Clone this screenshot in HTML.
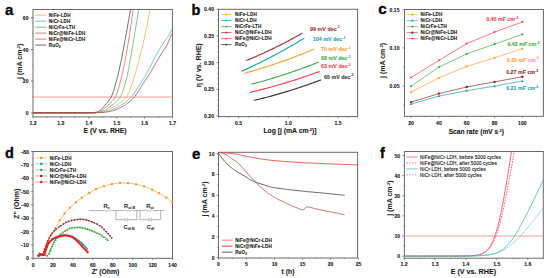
<!DOCTYPE html>
<html><head><meta charset="utf-8"><style>
html,body{margin:0;padding:0;background:#fff;width:550px;height:278px;overflow:hidden}
svg{display:block;font-family:"Liberation Sans", sans-serif}
</style></head><body>
<svg width="550" height="278" viewBox="0 0 550 278">
<rect width="550" height="278" fill="#fff"/>
<text x="9.10" y="14.60" font-size="15" text-anchor="middle" font-weight="bold" fill="#000" stroke="#000" stroke-width="0.3" >a</text>
<rect x="33.0" y="9.5" width="139.4" height="107.4" fill="none" stroke="#6a6a6a" stroke-width="1.0"/>
<line x1="31.80" y1="97.05" x2="33.00" y2="97.05" stroke="#555" stroke-width="0.6" />
<line x1="31.80" y1="65.35" x2="33.00" y2="65.35" stroke="#555" stroke-width="0.6" />
<line x1="31.80" y1="33.65" x2="33.00" y2="33.65" stroke="#555" stroke-width="0.6" />
<line x1="31.00" y1="112.90" x2="33.00" y2="112.90" stroke="#555" stroke-width="0.8" />
<text x="28.50" y="114.90" font-size="5.1" text-anchor="end" font-weight="bold" fill="#151515" stroke="#151515" stroke-width="0.09" >0</text>
<line x1="31.00" y1="81.20" x2="33.00" y2="81.20" stroke="#555" stroke-width="0.8" />
<text x="28.50" y="83.20" font-size="5.1" text-anchor="end" font-weight="bold" fill="#151515" stroke="#151515" stroke-width="0.09" >20</text>
<line x1="31.00" y1="49.50" x2="33.00" y2="49.50" stroke="#555" stroke-width="0.8" />
<text x="28.50" y="51.50" font-size="5.1" text-anchor="end" font-weight="bold" fill="#151515" stroke="#151515" stroke-width="0.09" >40</text>
<line x1="31.00" y1="17.80" x2="33.00" y2="17.80" stroke="#555" stroke-width="0.8" />
<text x="28.50" y="19.80" font-size="5.1" text-anchor="end" font-weight="bold" fill="#151515" stroke="#151515" stroke-width="0.09" >60</text>
<line x1="33.00" y1="116.90" x2="33.00" y2="118.50" stroke="#555" stroke-width="0.7" />
<text x="33.00" y="125.20" font-size="5.1" text-anchor="middle" font-weight="bold" fill="#151515" stroke="#151515" stroke-width="0.09" >1.2</text>
<line x1="46.95" y1="116.90" x2="46.95" y2="117.86" stroke="#555" stroke-width="0.7" />
<line x1="60.90" y1="116.90" x2="60.90" y2="118.50" stroke="#555" stroke-width="0.7" />
<text x="60.90" y="125.20" font-size="5.1" text-anchor="middle" font-weight="bold" fill="#151515" stroke="#151515" stroke-width="0.09" >1.3</text>
<line x1="74.85" y1="116.90" x2="74.85" y2="117.86" stroke="#555" stroke-width="0.7" />
<line x1="88.80" y1="116.90" x2="88.80" y2="118.50" stroke="#555" stroke-width="0.7" />
<text x="88.80" y="125.20" font-size="5.1" text-anchor="middle" font-weight="bold" fill="#151515" stroke="#151515" stroke-width="0.09" >1.4</text>
<line x1="102.75" y1="116.90" x2="102.75" y2="117.86" stroke="#555" stroke-width="0.7" />
<line x1="116.70" y1="116.90" x2="116.70" y2="118.50" stroke="#555" stroke-width="0.7" />
<text x="116.70" y="125.20" font-size="5.1" text-anchor="middle" font-weight="bold" fill="#151515" stroke="#151515" stroke-width="0.09" >1.5</text>
<line x1="130.65" y1="116.90" x2="130.65" y2="117.86" stroke="#555" stroke-width="0.7" />
<line x1="144.60" y1="116.90" x2="144.60" y2="118.50" stroke="#555" stroke-width="0.7" />
<text x="144.60" y="125.20" font-size="5.1" text-anchor="middle" font-weight="bold" fill="#151515" stroke="#151515" stroke-width="0.09" >1.6</text>
<line x1="158.55" y1="116.90" x2="158.55" y2="117.86" stroke="#555" stroke-width="0.7" />
<line x1="172.50" y1="116.90" x2="172.50" y2="118.50" stroke="#555" stroke-width="0.7" />
<text x="172.50" y="125.20" font-size="5.1" text-anchor="middle" font-weight="bold" fill="#151515" stroke="#151515" stroke-width="0.09" >1.7</text>
<text x="105.00" y="133.30" font-size="6.8" text-anchor="middle" font-weight="bold" fill="#151515" stroke="#151515" stroke-width="0.09" >E (V vs. RHE)</text>
<text transform="translate(21.5,61.3) rotate(-90)" font-size="7" text-anchor="middle" font-weight="bold" fill="#222" stroke="#222" stroke-width="0.04">j (mA cm<tspan font-size="4" dy="-2">-2</tspan><tspan dy="2">)</tspan></text>
<line x1="33.00" y1="97.05" x2="172.40" y2="97.05" stroke="#F29C9C" stroke-width="1.0" />
<line x1="35.30" y1="15.20" x2="46.40" y2="15.20" stroke="#FBB46E" stroke-width="0.9" />
<text x="48.80" y="16.90" font-size="4.6" text-anchor="start" font-weight="bold" fill="#151515" stroke="#151515" stroke-width="0.09" letter-spacing="0.12" >NiFe-LDH</text>
<line x1="35.30" y1="21.18" x2="46.40" y2="21.18" stroke="#5CC2C4" stroke-width="0.9" />
<text x="48.80" y="22.88" font-size="4.6" text-anchor="start" font-weight="bold" fill="#151515" stroke="#151515" stroke-width="0.09" letter-spacing="0.12" >NiCr-LDH</text>
<line x1="35.30" y1="27.16" x2="46.40" y2="27.16" stroke="#6DC16F" stroke-width="0.9" />
<text x="48.80" y="28.86" font-size="4.6" text-anchor="start" font-weight="bold" fill="#151515" stroke="#151515" stroke-width="0.09" letter-spacing="0.12" >NiCrFe-LTH</text>
<line x1="35.30" y1="33.14" x2="46.40" y2="33.14" stroke="#C07070" stroke-width="0.9" />
<text x="48.80" y="34.84" font-size="4.6" text-anchor="start" font-weight="bold" fill="#151515" stroke="#151515" stroke-width="0.09" letter-spacing="0.12" >NiCr@NiFe-LDH</text>
<line x1="35.30" y1="39.12" x2="46.40" y2="39.12" stroke="#F26464" stroke-width="0.9" />
<text x="48.80" y="40.82" font-size="4.6" text-anchor="start" font-weight="bold" fill="#151515" stroke="#151515" stroke-width="0.09" letter-spacing="0.12" >NiFe@NiCr-LDH</text>
<line x1="35.30" y1="45.10" x2="46.40" y2="45.10" stroke="#555555" stroke-width="0.9" />
<text x="48.80" y="46.80" font-size="4.6" text-anchor="start" font-weight="bold" fill="#151515" stroke="#151515" stroke-width="0.09" letter-spacing="0.12" >RuO<tspan font-size="3.3" dy="1">2</tspan></text>
<path d="M33.00,113.10 L33.82,113.10 L34.64,113.10 L35.46,113.10 L36.28,113.10 L37.10,113.10 L37.92,113.10 L38.74,113.10 L39.55,113.10 L40.37,113.10 L41.19,113.10 L42.01,113.10 L42.83,113.10 L43.65,113.10 L44.47,113.10 L45.29,113.10 L46.11,113.10 L46.93,113.10 L47.75,113.09 L48.57,113.09 L49.39,113.09 L50.21,113.09 L51.03,113.09 L51.84,113.09 L52.66,113.09 L53.48,113.09 L54.30,113.09 L55.12,113.09 L55.94,113.09 L56.76,113.08 L57.58,113.08 L58.40,113.08 L59.22,113.08 L60.04,113.08 L60.86,113.08 L61.68,113.08 L62.50,113.07 L63.32,113.07 L64.13,113.07 L64.95,113.07 L65.77,113.07 L66.59,113.07 L67.41,113.06 L68.23,113.06 L69.05,113.06 L69.87,113.06 L70.69,113.05 L71.51,113.05 L72.33,113.05 L73.15,113.05 L73.97,113.04 L74.79,113.04 L75.61,113.04 L76.42,113.04 L77.24,113.03 L78.06,113.03 L78.88,113.03 L79.70,113.02 L80.52,113.02 L81.34,113.02 L82.16,113.01 L82.98,113.01 L83.80,113.01 L84.62,113.00 L85.44,113.00 L86.26,112.98 L87.08,112.97 L87.89,112.94 L88.71,112.90 L89.53,112.86 L90.35,112.81 L91.17,112.76 L91.99,112.69 L92.81,112.62 L93.63,112.54 L94.45,112.46 L95.27,112.37 L96.09,112.21 L96.91,111.98 L97.73,111.68 L98.55,111.33 L99.37,110.93 L100.18,110.49 L101.00,109.88 L101.82,109.07 L102.64,108.13 L103.46,107.12 L104.28,106.08 L105.10,105.08 L105.92,104.13 L106.74,103.20 L107.56,102.26 L108.38,101.25 L109.20,100.16 L110.02,98.95 L110.84,97.58 L111.66,95.97 L112.47,93.98 L113.29,91.66 L114.11,89.08 L114.93,86.31 L115.75,83.42 L116.57,80.46 L117.39,77.40 L118.21,74.09 L119.03,70.55 L119.85,66.84 L120.67,63.01 L121.49,59.09 L122.31,54.98 L123.13,50.67 L123.95,46.23 L124.76,41.71 L125.58,37.19 L126.40,32.68 L127.22,28.13 L128.04,23.54 L128.86,18.91 L129.68,14.23 L130.50,9.50" fill="none" stroke="#444" stroke-width="0.75" stroke-linejoin="round" />
<path d="M33.00,113.00 L33.84,113.00 L34.68,113.00 L35.52,113.00 L36.36,113.00 L37.21,113.00 L38.05,113.00 L38.89,113.00 L39.73,113.00 L40.57,113.00 L41.41,113.00 L42.25,113.00 L43.09,113.00 L43.94,113.00 L44.78,113.00 L45.62,113.00 L46.46,113.00 L47.30,113.00 L48.14,113.00 L48.98,112.99 L49.82,112.99 L50.66,112.99 L51.51,112.99 L52.35,112.99 L53.19,112.99 L54.03,112.99 L54.87,112.99 L55.71,112.99 L56.55,112.99 L57.39,112.99 L58.24,112.98 L59.08,112.98 L59.92,112.98 L60.76,112.98 L61.60,112.98 L62.44,112.98 L63.28,112.98 L64.12,112.97 L64.96,112.97 L65.81,112.97 L66.65,112.97 L67.49,112.97 L68.33,112.97 L69.17,112.96 L70.01,112.96 L70.85,112.96 L71.69,112.96 L72.54,112.96 L73.38,112.95 L74.22,112.95 L75.06,112.95 L75.90,112.95 L76.74,112.94 L77.58,112.94 L78.42,112.94 L79.26,112.93 L80.11,112.93 L80.95,112.93 L81.79,112.93 L82.63,112.92 L83.47,112.92 L84.31,112.92 L85.15,112.91 L85.99,112.91 L86.84,112.91 L87.68,112.90 L88.52,112.90 L89.36,112.88 L90.20,112.86 L91.04,112.82 L91.88,112.78 L92.72,112.73 L93.56,112.67 L94.41,112.60 L95.25,112.52 L96.09,112.43 L96.93,112.34 L97.77,112.23 L98.61,112.08 L99.45,111.81 L100.29,111.44 L101.14,111.00 L101.98,110.51 L102.82,110.00 L103.66,109.38 L104.50,108.65 L105.34,107.83 L106.18,106.97 L107.02,106.10 L107.86,105.24 L108.71,104.42 L109.55,103.65 L110.39,102.89 L111.23,102.12 L112.07,101.29 L112.91,100.38 L113.75,99.36 L114.59,98.20 L115.44,96.87 L116.28,95.11 L117.12,92.88 L117.96,90.27 L118.80,87.38 L119.64,84.32 L120.48,81.18 L121.32,77.99 L122.16,74.50 L123.01,70.75 L123.85,66.76 L124.69,62.60 L125.53,58.29 L126.37,53.71 L127.21,48.86 L128.05,43.81 L128.89,38.57 L129.74,33.19 L130.58,27.59 L131.42,21.76 L132.26,15.73 L133.10,9.50" fill="none" stroke="#F25A5A" stroke-width="0.75" stroke-linejoin="round" />
<path d="M33.00,112.90 L33.89,112.90 L34.78,112.90 L35.66,112.90 L36.55,112.90 L37.44,112.90 L38.33,112.90 L39.22,112.90 L40.11,112.90 L40.99,112.90 L41.88,112.90 L42.77,112.90 L43.66,112.90 L44.55,112.90 L45.44,112.90 L46.32,112.90 L47.21,112.90 L48.10,112.90 L48.99,112.90 L49.88,112.90 L50.76,112.90 L51.65,112.90 L52.54,112.90 L53.43,112.90 L54.32,112.90 L55.21,112.90 L56.09,112.90 L56.98,112.90 L57.87,112.90 L58.76,112.90 L59.65,112.90 L60.54,112.90 L61.42,112.90 L62.31,112.90 L63.20,112.90 L64.09,112.90 L64.98,112.90 L65.86,112.90 L66.75,112.90 L67.64,112.90 L68.53,112.90 L69.42,112.90 L70.31,112.90 L71.19,112.90 L72.08,112.90 L72.97,112.90 L73.86,112.90 L74.75,112.90 L75.64,112.90 L76.52,112.90 L77.41,112.90 L78.30,112.90 L79.19,112.90 L80.08,112.90 L80.96,112.90 L81.85,112.90 L82.74,112.90 L83.63,112.90 L84.52,112.90 L85.41,112.90 L86.29,112.90 L87.18,112.90 L88.07,112.90 L88.96,112.90 L89.85,112.90 L90.74,112.90 L91.62,112.88 L92.51,112.85 L93.40,112.81 L94.29,112.76 L95.18,112.70 L96.06,112.63 L96.95,112.55 L97.84,112.46 L98.73,112.36 L99.62,112.25 L100.51,112.11 L101.39,111.87 L102.28,111.53 L103.17,111.12 L104.06,110.68 L104.95,110.23 L105.84,109.75 L106.72,109.21 L107.61,108.62 L108.50,107.98 L109.39,107.31 L110.28,106.61 L111.16,105.89 L112.05,105.16 L112.94,104.43 L113.83,103.72 L114.72,102.99 L115.61,102.24 L116.49,101.42 L117.38,100.53 L118.27,99.54 L119.16,98.43 L120.05,97.18 L120.94,95.65 L121.82,93.72 L122.71,91.44 L123.60,88.85 L124.49,86.01 L125.38,82.96 L126.26,79.76 L127.15,76.04 L128.04,71.68 L128.93,66.94 L129.82,62.07 L130.71,57.24 L131.59,52.22 L132.48,47.02 L133.37,41.74 L134.26,36.44 L135.15,31.14 L136.04,25.80 L136.92,20.42 L137.81,14.98 L138.70,9.50" fill="none" stroke="#5DB85F" stroke-width="0.75" stroke-linejoin="round" />
<path d="M33.00,112.80 L33.98,112.80 L34.97,112.80 L35.95,112.80 L36.93,112.80 L37.92,112.80 L38.90,112.80 L39.88,112.80 L40.87,112.80 L41.85,112.80 L42.83,112.80 L43.82,112.80 L44.80,112.80 L45.78,112.80 L46.76,112.80 L47.75,112.80 L48.73,112.80 L49.71,112.80 L50.70,112.80 L51.68,112.80 L52.66,112.80 L53.65,112.80 L54.63,112.80 L55.61,112.80 L56.60,112.80 L57.58,112.80 L58.56,112.80 L59.55,112.80 L60.53,112.80 L61.51,112.80 L62.50,112.80 L63.48,112.80 L64.46,112.80 L65.45,112.80 L66.43,112.80 L67.41,112.80 L68.39,112.80 L69.38,112.80 L70.36,112.80 L71.34,112.80 L72.33,112.80 L73.31,112.80 L74.29,112.80 L75.28,112.80 L76.26,112.80 L77.24,112.80 L78.23,112.80 L79.21,112.80 L80.19,112.80 L81.18,112.80 L82.16,112.80 L83.14,112.80 L84.13,112.80 L85.11,112.80 L86.09,112.80 L87.08,112.80 L88.06,112.80 L89.04,112.80 L90.03,112.80 L91.01,112.80 L91.99,112.80 L92.97,112.79 L93.96,112.77 L94.94,112.74 L95.92,112.70 L96.91,112.65 L97.89,112.58 L98.87,112.51 L99.86,112.42 L100.84,112.32 L101.82,112.22 L102.81,112.05 L103.79,111.74 L104.77,111.32 L105.76,110.85 L106.74,110.36 L107.72,109.90 L108.71,109.44 L109.69,108.97 L110.67,108.48 L111.66,107.97 L112.64,107.44 L113.62,106.89 L114.61,106.31 L115.59,105.71 L116.57,105.09 L117.55,104.47 L118.54,103.84 L119.52,103.21 L120.50,102.55 L121.49,101.84 L122.47,101.07 L123.45,100.23 L124.44,99.30 L125.42,98.26 L126.40,97.10 L127.39,95.57 L128.37,93.56 L129.35,91.27 L130.34,88.86 L131.32,86.14 L132.30,83.15 L133.29,80.05 L134.27,76.88 L135.25,73.59 L136.24,70.19 L137.22,66.69 L138.20,63.10 L139.18,59.45 L140.17,55.73 L141.15,51.91 L142.13,47.97 L143.12,43.86 L144.10,39.55 L145.08,35.03 L146.07,30.30 L147.05,25.38 L148.03,20.26 L149.02,14.97 L150.00,9.50" fill="none" stroke="#FBA94F" stroke-width="0.75" stroke-linejoin="round" />
<path d="M33.00,112.70 L34.17,112.70 L35.34,112.70 L36.51,112.70 L37.68,112.70 L38.85,112.70 L40.02,112.70 L41.19,112.70 L42.36,112.70 L43.53,112.70 L44.70,112.70 L45.87,112.70 L47.04,112.70 L48.21,112.70 L49.38,112.70 L50.55,112.70 L51.72,112.70 L52.89,112.70 L54.06,112.70 L55.23,112.70 L56.39,112.70 L57.56,112.70 L58.73,112.70 L59.90,112.70 L61.07,112.70 L62.24,112.70 L63.41,112.70 L64.58,112.70 L65.75,112.70 L66.92,112.70 L68.09,112.70 L69.26,112.70 L70.43,112.70 L71.60,112.70 L72.77,112.70 L73.94,112.70 L75.11,112.70 L76.28,112.70 L77.45,112.70 L78.62,112.70 L79.79,112.70 L80.96,112.70 L82.13,112.70 L83.30,112.70 L84.47,112.70 L85.64,112.70 L86.81,112.70 L87.98,112.70 L89.15,112.70 L90.32,112.70 L91.49,112.70 L92.66,112.70 L93.83,112.70 L95.00,112.69 L96.17,112.67 L97.34,112.64 L98.51,112.59 L99.68,112.52 L100.85,112.45 L102.02,112.36 L103.18,112.27 L104.35,112.16 L105.52,111.96 L106.69,111.66 L107.86,111.28 L109.03,110.86 L110.20,110.41 L111.37,109.97 L112.54,109.52 L113.71,109.04 L114.88,108.52 L116.05,107.97 L117.22,107.39 L118.39,106.77 L119.56,106.11 L120.73,105.42 L121.90,104.70 L123.07,103.92 L124.24,103.09 L125.41,102.20 L126.58,101.25 L127.75,100.24 L128.92,99.17 L130.09,98.03 L131.26,96.82 L132.43,95.46 L133.60,93.93 L134.77,92.26 L135.94,90.50 L137.11,88.68 L138.28,86.82 L139.45,84.98 L140.62,83.18 L141.79,81.43 L142.96,79.68 L144.13,77.89 L145.30,76.02 L146.47,74.01 L147.64,71.85 L148.81,69.56 L149.97,67.21 L151.14,64.83 L152.31,62.48 L153.48,60.20 L154.65,57.99 L155.82,55.79 L156.99,53.62 L158.16,51.51 L159.33,49.48 L160.50,47.56 L161.67,45.73 L162.84,43.96 L164.01,42.24 L165.18,40.55 L166.35,38.90 L167.52,37.37 L168.69,35.70 L169.86,33.65 L171.03,31.22 L172.20,28.50" fill="none" stroke="#47B5B8" stroke-width="0.75" stroke-linejoin="round" />
<path d="M33.00,112.60 L34.17,112.60 L35.34,112.60 L36.51,112.60 L37.68,112.60 L38.85,112.60 L40.02,112.60 L41.19,112.60 L42.36,112.60 L43.53,112.60 L44.70,112.60 L45.87,112.60 L47.04,112.60 L48.21,112.60 L49.38,112.60 L50.55,112.60 L51.72,112.60 L52.89,112.60 L54.06,112.60 L55.23,112.60 L56.39,112.60 L57.56,112.60 L58.73,112.60 L59.90,112.60 L61.07,112.60 L62.24,112.60 L63.41,112.60 L64.58,112.60 L65.75,112.60 L66.92,112.60 L68.09,112.60 L69.26,112.60 L70.43,112.60 L71.60,112.60 L72.77,112.60 L73.94,112.60 L75.11,112.60 L76.28,112.60 L77.45,112.60 L78.62,112.60 L79.79,112.60 L80.96,112.60 L82.13,112.60 L83.30,112.60 L84.47,112.60 L85.64,112.60 L86.81,112.60 L87.98,112.60 L89.15,112.60 L90.32,112.60 L91.49,112.60 L92.66,112.60 L93.83,112.60 L95.00,112.60 L96.17,112.60 L97.34,112.59 L98.51,112.56 L99.68,112.52 L100.85,112.46 L102.02,112.40 L103.18,112.32 L104.35,112.23 L105.52,112.14 L106.69,112.03 L107.86,111.87 L109.03,111.65 L110.20,111.38 L111.37,111.08 L112.54,110.75 L113.71,110.40 L114.88,110.04 L116.05,109.65 L117.22,109.20 L118.39,108.70 L119.56,108.15 L120.73,107.56 L121.90,106.92 L123.07,106.25 L124.24,105.55 L125.41,104.81 L126.58,104.01 L127.75,103.14 L128.92,102.20 L130.09,101.19 L131.26,100.12 L132.43,98.97 L133.60,97.75 L134.77,96.44 L135.94,94.93 L137.11,93.22 L138.28,91.38 L139.45,89.47 L140.62,87.52 L141.79,85.59 L142.96,83.73 L144.13,81.98 L145.30,80.29 L146.47,78.62 L147.64,76.92 L148.81,75.15 L149.97,73.27 L151.14,71.32 L152.31,69.31 L153.48,67.26 L154.65,65.21 L155.82,63.17 L156.99,61.17 L158.16,59.19 L159.33,57.21 L160.50,55.23 L161.67,53.29 L162.84,51.37 L164.01,49.60 L165.18,47.90 L166.35,46.11 L167.52,44.05 L168.69,41.41 L169.86,38.38 L171.03,35.51 L172.20,33.50" fill="none" stroke="#B04A4A" stroke-width="0.75" stroke-linejoin="round" />
<line x1="33.50" y1="112.75" x2="96.00" y2="112.75" stroke="#A84444" stroke-width="1.1" />
<text x="196.00" y="14.50" font-size="14.5" text-anchor="middle" font-weight="bold" fill="#000" stroke="#000" stroke-width="0.3" >b</text>
<rect x="218.5" y="9.3" width="139.10000000000002" height="107.3" fill="none" stroke="#6a6a6a" stroke-width="1.0"/>
<line x1="216.50" y1="116.00" x2="218.50" y2="116.00" stroke="#555" stroke-width="0.7" />
<text x="214.00" y="118.00" font-size="5.1" text-anchor="end" font-weight="bold" fill="#151515" stroke="#151515" stroke-width="0.09" >0.20</text>
<line x1="217.30" y1="110.66" x2="218.50" y2="110.66" stroke="#555" stroke-width="0.6" />
<line x1="217.30" y1="105.33" x2="218.50" y2="105.33" stroke="#555" stroke-width="0.6" />
<line x1="217.30" y1="100.00" x2="218.50" y2="100.00" stroke="#555" stroke-width="0.6" />
<line x1="217.30" y1="94.66" x2="218.50" y2="94.66" stroke="#555" stroke-width="0.6" />
<line x1="216.50" y1="89.33" x2="218.50" y2="89.33" stroke="#555" stroke-width="0.7" />
<text x="214.00" y="91.33" font-size="5.1" text-anchor="end" font-weight="bold" fill="#151515" stroke="#151515" stroke-width="0.09" >0.25</text>
<line x1="217.30" y1="83.99" x2="218.50" y2="83.99" stroke="#555" stroke-width="0.6" />
<line x1="217.30" y1="78.66" x2="218.50" y2="78.66" stroke="#555" stroke-width="0.6" />
<line x1="217.30" y1="73.32" x2="218.50" y2="73.32" stroke="#555" stroke-width="0.6" />
<line x1="217.30" y1="67.98" x2="218.50" y2="67.98" stroke="#555" stroke-width="0.6" />
<line x1="216.50" y1="62.65" x2="218.50" y2="62.65" stroke="#555" stroke-width="0.7" />
<text x="214.00" y="64.65" font-size="5.1" text-anchor="end" font-weight="bold" fill="#151515" stroke="#151515" stroke-width="0.09" >0.30</text>
<line x1="217.30" y1="57.32" x2="218.50" y2="57.32" stroke="#555" stroke-width="0.6" />
<line x1="217.30" y1="51.98" x2="218.50" y2="51.98" stroke="#555" stroke-width="0.6" />
<line x1="217.30" y1="46.64" x2="218.50" y2="46.64" stroke="#555" stroke-width="0.6" />
<line x1="217.30" y1="41.31" x2="218.50" y2="41.31" stroke="#555" stroke-width="0.6" />
<line x1="216.50" y1="35.98" x2="218.50" y2="35.98" stroke="#555" stroke-width="0.7" />
<text x="214.00" y="37.98" font-size="5.1" text-anchor="end" font-weight="bold" fill="#151515" stroke="#151515" stroke-width="0.09" >0.35</text>
<line x1="217.30" y1="30.64" x2="218.50" y2="30.64" stroke="#555" stroke-width="0.6" />
<line x1="217.30" y1="25.31" x2="218.50" y2="25.31" stroke="#555" stroke-width="0.6" />
<line x1="217.30" y1="19.97" x2="218.50" y2="19.97" stroke="#555" stroke-width="0.6" />
<line x1="217.30" y1="14.64" x2="218.50" y2="14.64" stroke="#555" stroke-width="0.6" />
<line x1="216.50" y1="9.30" x2="218.50" y2="9.30" stroke="#555" stroke-width="0.7" />
<text x="214.00" y="11.30" font-size="5.1" text-anchor="end" font-weight="bold" fill="#151515" stroke="#151515" stroke-width="0.09" >0.40</text>
<line x1="218.72" y1="116.60" x2="218.72" y2="117.60" stroke="#555" stroke-width="0.6" />
<line x1="228.66" y1="116.60" x2="228.66" y2="117.60" stroke="#555" stroke-width="0.6" />
<line x1="238.60" y1="116.60" x2="238.60" y2="118.20" stroke="#555" stroke-width="0.7" />
<text x="238.60" y="125.30" font-size="5.1" text-anchor="middle" font-weight="bold" fill="#151515" stroke="#151515" stroke-width="0.09" >0.5</text>
<line x1="248.54" y1="116.60" x2="248.54" y2="117.60" stroke="#555" stroke-width="0.6" />
<line x1="258.48" y1="116.60" x2="258.48" y2="117.60" stroke="#555" stroke-width="0.6" />
<line x1="268.42" y1="116.60" x2="268.42" y2="117.60" stroke="#555" stroke-width="0.6" />
<line x1="278.36" y1="116.60" x2="278.36" y2="117.60" stroke="#555" stroke-width="0.6" />
<line x1="288.30" y1="116.60" x2="288.30" y2="118.20" stroke="#555" stroke-width="0.7" />
<text x="288.30" y="125.30" font-size="5.1" text-anchor="middle" font-weight="bold" fill="#151515" stroke="#151515" stroke-width="0.09" >1.0</text>
<line x1="298.24" y1="116.60" x2="298.24" y2="117.60" stroke="#555" stroke-width="0.6" />
<line x1="308.18" y1="116.60" x2="308.18" y2="117.60" stroke="#555" stroke-width="0.6" />
<line x1="318.12" y1="116.60" x2="318.12" y2="117.60" stroke="#555" stroke-width="0.6" />
<line x1="328.06" y1="116.60" x2="328.06" y2="117.60" stroke="#555" stroke-width="0.6" />
<line x1="338.00" y1="116.60" x2="338.00" y2="118.20" stroke="#555" stroke-width="0.7" />
<text x="338.00" y="125.30" font-size="5.1" text-anchor="middle" font-weight="bold" fill="#151515" stroke="#151515" stroke-width="0.09" >1.5</text>
<line x1="347.94" y1="116.60" x2="347.94" y2="117.60" stroke="#555" stroke-width="0.6" />
<line x1="357.88" y1="116.60" x2="357.88" y2="117.60" stroke="#555" stroke-width="0.6" />
<text x="290.00" y="133.30" font-size="6.8" text-anchor="middle" font-weight="bold" fill="#151515" stroke="#151515" stroke-width="0.09" >Log [j (mA cm<tspan font-size="4" dy="-2">-2</tspan><tspan dy="2">)]</tspan></text>
<text transform="translate(201.3,65.3) rotate(-90)" font-size="7" text-anchor="middle" font-weight="bold" fill="#222" stroke="#222" stroke-width="0.04">η (V vs. RHE)</text>
<line x1="221.00" y1="14.60" x2="231.50" y2="14.60" stroke="#F7A23A" stroke-width="0.75" />
<circle cx="226.2" cy="14.6" r="0.95" fill="#F7A23A"/>
<text x="235.00" y="16.30" font-size="4.6" text-anchor="start" font-weight="bold" fill="#151515" stroke="#151515" stroke-width="0.09" letter-spacing="0.12" >NiFe-LDH</text>
<line x1="221.00" y1="20.60" x2="231.50" y2="20.60" stroke="#1FA3A6" stroke-width="0.75" />
<circle cx="226.2" cy="20.6" r="0.95" fill="#1FA3A6"/>
<text x="235.00" y="22.30" font-size="4.6" text-anchor="start" font-weight="bold" fill="#151515" stroke="#151515" stroke-width="0.09" letter-spacing="0.12" >NiCr-LDH</text>
<line x1="221.00" y1="26.60" x2="231.50" y2="26.60" stroke="#43AE47" stroke-width="0.75" />
<circle cx="226.2" cy="26.6" r="0.95" fill="#43AE47"/>
<text x="235.00" y="28.30" font-size="4.6" text-anchor="start" font-weight="bold" fill="#151515" stroke="#151515" stroke-width="0.09" letter-spacing="0.12" >NiCrFe-LTH</text>
<line x1="221.00" y1="32.60" x2="231.50" y2="32.60" stroke="#9E3434" stroke-width="0.75" />
<circle cx="226.2" cy="32.6" r="0.95" fill="#9E3434"/>
<text x="235.00" y="34.30" font-size="4.6" text-anchor="start" font-weight="bold" fill="#151515" stroke="#151515" stroke-width="0.09" letter-spacing="0.12" >NiCr@NiFe-LDH</text>
<line x1="221.00" y1="38.60" x2="231.50" y2="38.60" stroke="#F2404F" stroke-width="0.75" />
<circle cx="226.2" cy="38.6" r="0.95" fill="#F2404F"/>
<text x="235.00" y="40.30" font-size="4.6" text-anchor="start" font-weight="bold" fill="#151515" stroke="#151515" stroke-width="0.09" letter-spacing="0.12" >NiFe@NiCr-LDH</text>
<line x1="221.00" y1="44.60" x2="231.50" y2="44.60" stroke="#3A3A3A" stroke-width="0.75" />
<circle cx="226.2" cy="44.6" r="0.95" fill="#3A3A3A"/>
<text x="235.00" y="46.30" font-size="4.6" text-anchor="start" font-weight="bold" fill="#151515" stroke="#151515" stroke-width="0.09" letter-spacing="0.12" >RuO<tspan font-size="3.3" dy="1">2</tspan></text>
<path d="M246.20,60.55 L247.63,59.97 L249.07,59.38 L250.50,58.79 L251.93,58.19 L253.37,57.58 L254.80,56.97 L256.23,56.35 L257.67,55.72 L259.10,55.09 L260.53,54.45 L261.97,53.81 L263.40,53.16 L264.83,52.50 L266.27,51.84 L267.70,51.17 L269.13,50.50 L270.57,49.82 L272.00,49.14 L273.43,48.45 L274.87,47.75 L276.30,47.05 L277.73,46.34 L279.17,45.62 L280.60,44.90 L282.03,44.17 L283.47,43.43 L284.90,42.69 L286.33,41.94 L287.77,41.18 L289.20,40.41 L290.63,39.64 L292.07,38.87 L293.50,38.08 L294.93,37.29 L296.37,36.50 L297.80,35.69 L299.23,34.88 L300.67,34.07 L302.10,33.25" fill="none" stroke="#9E3434" stroke-width="1.15" stroke-linejoin="round" />
<text x="310.00" y="30.50" font-size="5.4" text-anchor="start" font-weight="bold" fill="#9E3434" stroke="#9E3434" stroke-width="0.09" >99 mV dec<tspan font-size="3.5" dy="-2.2">-1</tspan></text>
<path d="M241.50,71.35 L243.11,70.62 L244.73,69.88 L246.34,69.14 L247.95,68.38 L249.56,67.63 L251.18,66.86 L252.79,66.09 L254.40,65.31 L256.02,64.53 L257.63,63.74 L259.24,62.95 L260.85,62.14 L262.47,61.34 L264.08,60.52 L265.69,59.71 L267.31,58.88 L268.92,58.05 L270.53,57.21 L272.14,56.37 L273.76,55.53 L275.37,54.67 L276.98,53.81 L278.59,52.94 L280.21,52.07 L281.82,51.19 L283.43,50.30 L285.05,49.40 L286.66,48.50 L288.27,47.59 L289.88,46.67 L291.50,45.75 L293.11,44.82 L294.72,43.89 L296.34,42.95 L297.95,42.00 L299.56,41.05 L301.17,40.09 L302.79,39.12 L304.40,38.15" fill="none" stroke="#1FA3A6" stroke-width="1.15" stroke-linejoin="round" />
<text x="312.70" y="41.00" font-size="5.4" text-anchor="start" font-weight="bold" fill="#1FA3A6" stroke="#1FA3A6" stroke-width="0.09" >104 mV dec<tspan font-size="3.5" dy="-2.2">-1</tspan></text>
<path d="M244.10,73.45 L245.90,72.94 L247.71,72.43 L249.51,71.91 L251.31,71.39 L253.11,70.85 L254.92,70.31 L256.72,69.77 L258.52,69.22 L260.32,68.66 L262.13,68.09 L263.93,67.52 L265.73,66.95 L267.53,66.37 L269.34,65.78 L271.14,65.19 L272.94,64.59 L274.74,63.98 L276.55,63.37 L278.35,62.76 L280.15,62.14 L281.95,61.51 L283.76,60.88 L285.56,60.24 L287.36,59.59 L289.16,58.93 L290.97,58.27 L292.77,57.60 L294.57,56.92 L296.37,56.24 L298.18,55.55 L299.98,54.85 L301.78,54.15 L303.58,53.44 L305.39,52.72 L307.19,52.00 L308.99,51.27 L310.79,50.54 L312.60,49.80 L314.40,49.05" fill="none" stroke="#F7A23A" stroke-width="1.15" stroke-linejoin="round" />
<text x="320.90" y="50.80" font-size="5.4" text-anchor="start" font-weight="bold" fill="#F7A23A" stroke="#F7A23A" stroke-width="0.09" >70 mV dec<tspan font-size="3.5" dy="-2.2">-1</tspan></text>
<path d="M251.20,84.25 L252.93,83.80 L254.66,83.34 L256.39,82.88 L258.12,82.41 L259.85,81.93 L261.58,81.45 L263.32,80.96 L265.05,80.47 L266.78,79.96 L268.51,79.46 L270.24,78.94 L271.97,78.42 L273.70,77.90 L275.43,77.37 L277.16,76.83 L278.89,76.29 L280.62,75.74 L282.35,75.19 L284.08,74.63 L285.82,74.07 L287.55,73.50 L289.28,72.92 L291.01,72.33 L292.74,71.74 L294.47,71.14 L296.20,70.54 L297.93,69.92 L299.66,69.30 L301.39,68.67 L303.12,68.04 L304.85,67.40 L306.58,66.75 L308.32,66.10 L310.05,65.44 L311.78,64.77 L313.51,64.10 L315.24,63.42 L316.97,62.74 L318.70,62.05" fill="none" stroke="#43AE47" stroke-width="1.15" stroke-linejoin="round" />
<text x="320.90" y="59.70" font-size="5.4" text-anchor="start" font-weight="bold" fill="#43AE47" stroke="#43AE47" stroke-width="0.09" >68 mV dec<tspan font-size="3.5" dy="-2.2">-1</tspan></text>
<path d="M249.70,92.45 L251.49,92.03 L253.28,91.61 L255.08,91.17 L256.87,90.73 L258.66,90.29 L260.45,89.84 L262.25,89.38 L264.04,88.91 L265.83,88.44 L267.62,87.96 L269.42,87.48 L271.21,86.99 L273.00,86.50 L274.79,86.00 L276.58,85.49 L278.38,84.98 L280.17,84.46 L281.96,83.94 L283.75,83.42 L285.55,82.88 L287.34,82.34 L289.13,81.80 L290.92,81.24 L292.72,80.68 L294.51,80.11 L296.30,79.54 L298.09,78.95 L299.88,78.36 L301.68,77.77 L303.47,77.16 L305.26,76.55 L307.05,75.94 L308.85,75.31 L310.64,74.69 L312.43,74.05 L314.22,73.41 L316.02,72.76 L317.81,72.11 L319.60,71.45" fill="none" stroke="#F2404F" stroke-width="1.15" stroke-linejoin="round" />
<text x="321.00" y="68.10" font-size="5.4" text-anchor="start" font-weight="bold" fill="#F2404F" stroke="#F2404F" stroke-width="0.09" >63 mV dec<tspan font-size="3.5" dy="-2.2">-1</tspan></text>
<path d="M253.80,100.45 L255.52,100.04 L257.25,99.63 L258.97,99.20 L260.69,98.77 L262.42,98.34 L264.14,97.90 L265.86,97.45 L267.58,96.99 L269.31,96.53 L271.03,96.07 L272.75,95.59 L274.48,95.11 L276.20,94.63 L277.92,94.14 L279.65,93.64 L281.37,93.14 L283.09,92.64 L284.82,92.13 L286.54,91.61 L288.26,91.09 L289.98,90.56 L291.71,90.02 L293.43,89.48 L295.15,88.93 L296.88,88.37 L298.60,87.80 L300.32,87.23 L302.05,86.65 L303.77,86.07 L305.49,85.47 L307.22,84.87 L308.94,84.27 L310.66,83.65 L312.38,83.03 L314.11,82.41 L315.83,81.78 L317.55,81.14 L319.28,80.50 L321.00,79.85" fill="none" stroke="#3A3A3A" stroke-width="1.15" stroke-linejoin="round" />
<text x="323.90" y="78.50" font-size="5.4" text-anchor="start" font-weight="bold" fill="#3A3A3A" stroke="#3A3A3A" stroke-width="0.09" >65 mV dec<tspan font-size="3.5" dy="-2.2">-1</tspan></text>
<text x="382.40" y="14.30" font-size="15.2" text-anchor="middle" font-weight="bold" fill="#000" stroke="#000" stroke-width="0.3" >c</text>
<rect x="404.5" y="9.5" width="138.89999999999998" height="106.8" fill="none" stroke="#6a6a6a" stroke-width="1.0"/>
<line x1="403.30" y1="28.80" x2="404.50" y2="28.80" stroke="#555" stroke-width="0.6" />
<line x1="403.30" y1="67.00" x2="404.50" y2="67.00" stroke="#555" stroke-width="0.6" />
<line x1="403.30" y1="105.20" x2="404.50" y2="105.20" stroke="#555" stroke-width="0.6" />
<line x1="402.50" y1="9.70" x2="404.50" y2="9.70" stroke="#555" stroke-width="0.7" />
<text x="399.50" y="11.70" font-size="5.1" text-anchor="end" font-weight="bold" fill="#151515" stroke="#151515" stroke-width="0.09" >0.15</text>
<line x1="402.50" y1="47.90" x2="404.50" y2="47.90" stroke="#555" stroke-width="0.7" />
<text x="399.50" y="49.90" font-size="5.1" text-anchor="end" font-weight="bold" fill="#151515" stroke="#151515" stroke-width="0.09" >0.10</text>
<line x1="402.50" y1="86.10" x2="404.50" y2="86.10" stroke="#555" stroke-width="0.7" />
<text x="399.50" y="88.10" font-size="5.1" text-anchor="end" font-weight="bold" fill="#151515" stroke="#151515" stroke-width="0.09" >0.05</text>
<line x1="411.10" y1="116.30" x2="411.10" y2="117.90" stroke="#555" stroke-width="0.7" />
<text x="411.10" y="125.30" font-size="5.1" text-anchor="middle" font-weight="bold" fill="#151515" stroke="#151515" stroke-width="0.09" >20</text>
<line x1="425.00" y1="116.30" x2="425.00" y2="117.30" stroke="#555" stroke-width="0.6" />
<line x1="438.90" y1="116.30" x2="438.90" y2="117.90" stroke="#555" stroke-width="0.7" />
<text x="438.90" y="125.30" font-size="5.1" text-anchor="middle" font-weight="bold" fill="#151515" stroke="#151515" stroke-width="0.09" >40</text>
<line x1="452.80" y1="116.30" x2="452.80" y2="117.30" stroke="#555" stroke-width="0.6" />
<line x1="466.70" y1="116.30" x2="466.70" y2="117.90" stroke="#555" stroke-width="0.7" />
<text x="466.70" y="125.30" font-size="5.1" text-anchor="middle" font-weight="bold" fill="#151515" stroke="#151515" stroke-width="0.09" >60</text>
<line x1="480.60" y1="116.30" x2="480.60" y2="117.30" stroke="#555" stroke-width="0.6" />
<line x1="494.50" y1="116.30" x2="494.50" y2="117.90" stroke="#555" stroke-width="0.7" />
<text x="494.50" y="125.30" font-size="5.1" text-anchor="middle" font-weight="bold" fill="#151515" stroke="#151515" stroke-width="0.09" >80</text>
<line x1="508.40" y1="116.30" x2="508.40" y2="117.30" stroke="#555" stroke-width="0.6" />
<line x1="522.30" y1="116.30" x2="522.30" y2="117.90" stroke="#555" stroke-width="0.7" />
<text x="522.30" y="125.30" font-size="5.1" text-anchor="middle" font-weight="bold" fill="#151515" stroke="#151515" stroke-width="0.09" >100</text>
<line x1="536.20" y1="116.30" x2="536.20" y2="117.30" stroke="#555" stroke-width="0.6" />
<text x="476.30" y="133.60" font-size="6.6" text-anchor="middle" font-weight="bold" fill="#151515" stroke="#151515" stroke-width="0.09" >Scan rate (mV s<tspan font-size="4" dy="-2">-1</tspan><tspan dy="2">)</tspan></text>
<text transform="translate(385.2,60.4) rotate(-90)" font-size="7" text-anchor="middle" font-weight="bold" fill="#222" stroke="#222" stroke-width="0.04">j (mA cm<tspan font-size="4" dy="-2">-2</tspan><tspan dy="2">)</tspan></text>
<path d="M411.10,104.10 L438.90,96.10 L466.70,90.70 L494.50,86.20 L522.30,81.00" fill="none" stroke="#1FA3A6" stroke-width="0.7" stroke-linejoin="round" />
<path d="M411.10,102.75 L412.45,105.04 L409.75,105.04Z" fill="#1FA3A6"/>
<path d="M438.90,94.75 L440.25,97.04 L437.55,97.04Z" fill="#1FA3A6"/>
<path d="M466.70,89.35 L468.05,91.64 L465.35,91.64Z" fill="#1FA3A6"/>
<path d="M494.50,84.85 L495.85,87.14 L493.15,87.14Z" fill="#1FA3A6"/>
<path d="M522.30,79.65 L523.65,81.94 L520.95,81.94Z" fill="#1FA3A6"/>
<path d="M411.10,102.10 L438.90,93.60 L466.70,87.00 L494.50,81.90 L522.30,76.70" fill="none" stroke="#8E2A2A" stroke-width="0.7" stroke-linejoin="round" />
<circle cx="411.10" cy="102.10" r="1.22" fill="#8E2A2A"/>
<circle cx="438.90" cy="93.60" r="1.22" fill="#8E2A2A"/>
<circle cx="466.70" cy="87.00" r="1.22" fill="#8E2A2A"/>
<circle cx="494.50" cy="81.90" r="1.22" fill="#8E2A2A"/>
<circle cx="522.30" cy="76.70" r="1.22" fill="#8E2A2A"/>
<path d="M411.10,92.10 L438.90,77.90 L466.70,66.40 L494.50,57.80 L522.30,48.70" fill="none" stroke="#F7A23A" stroke-width="0.7" stroke-linejoin="round" />
<path d="M411.10,90.75 L412.45,92.10 L411.10,93.45 L409.75,92.10Z" fill="#F7A23A"/>
<path d="M438.90,76.55 L440.25,77.90 L438.90,79.25 L437.55,77.90Z" fill="#F7A23A"/>
<path d="M466.70,65.05 L468.05,66.40 L466.70,67.75 L465.35,66.40Z" fill="#F7A23A"/>
<path d="M494.50,56.45 L495.85,57.80 L494.50,59.15 L493.15,57.80Z" fill="#F7A23A"/>
<path d="M522.30,47.35 L523.65,48.70 L522.30,50.05 L520.95,48.70Z" fill="#F7A23A"/>
<path d="M411.10,86.20 L438.90,67.10 L466.70,53.90 L494.50,44.20 L522.30,34.30" fill="none" stroke="#43AE47" stroke-width="0.7" stroke-linejoin="round" />
<path d="M411.10,84.85 L412.45,86.20 L411.10,87.55 L409.75,86.20Z" fill="#43AE47"/>
<path d="M438.90,65.75 L440.25,67.10 L438.90,68.45 L437.55,67.10Z" fill="#43AE47"/>
<path d="M466.70,52.55 L468.05,53.90 L466.70,55.25 L465.35,53.90Z" fill="#43AE47"/>
<path d="M494.50,42.85 L495.85,44.20 L494.50,45.55 L493.15,44.20Z" fill="#43AE47"/>
<path d="M522.30,32.95 L523.65,34.30 L522.30,35.65 L520.95,34.30Z" fill="#43AE47"/>
<path d="M411.10,77.60 L438.90,60.40 L466.70,43.60 L494.50,32.10 L522.30,22.00" fill="none" stroke="#F2404F" stroke-width="0.7" stroke-linejoin="round" />
<path d="M411.10,78.95 L412.45,76.66 L409.75,76.66Z" fill="#F2404F"/>
<path d="M438.90,61.75 L440.25,59.45 L437.55,59.45Z" fill="#F2404F"/>
<path d="M466.70,44.95 L468.05,42.66 L465.35,42.66Z" fill="#F2404F"/>
<path d="M494.50,33.45 L495.85,31.16 L493.15,31.16Z" fill="#F2404F"/>
<path d="M522.30,23.35 L523.65,21.05 L520.95,21.05Z" fill="#F2404F"/>
<line x1="406.70" y1="14.50" x2="417.70" y2="14.50" stroke="#F7A23A" stroke-width="0.6" />
<path d="M412.30,13.15 L413.65,14.50 L412.30,15.85 L410.95,14.50Z" fill="#F7A23A"/>
<text x="420.60" y="16.20" font-size="4.6" text-anchor="start" font-weight="bold" fill="#151515" stroke="#151515" stroke-width="0.09" letter-spacing="0.12" >NiFe-LDH</text>
<line x1="406.70" y1="20.55" x2="417.70" y2="20.55" stroke="#1FA3A6" stroke-width="0.6" />
<path d="M412.30,19.20 L413.65,21.50 L410.95,21.50Z" fill="#1FA3A6"/>
<text x="420.60" y="22.25" font-size="4.6" text-anchor="start" font-weight="bold" fill="#151515" stroke="#151515" stroke-width="0.09" letter-spacing="0.12" >NiCr-LDH</text>
<line x1="406.70" y1="26.60" x2="417.70" y2="26.60" stroke="#43AE47" stroke-width="0.6" />
<path d="M412.30,25.25 L413.65,26.60 L412.30,27.95 L410.95,26.60Z" fill="#43AE47"/>
<text x="420.60" y="28.30" font-size="4.6" text-anchor="start" font-weight="bold" fill="#151515" stroke="#151515" stroke-width="0.09" letter-spacing="0.12" >NiCrFe-LTH</text>
<line x1="406.70" y1="32.65" x2="417.70" y2="32.65" stroke="#8E2A2A" stroke-width="0.6" />
<circle cx="412.30" cy="32.65" r="1.22" fill="#8E2A2A"/>
<text x="420.60" y="34.35" font-size="4.6" text-anchor="start" font-weight="bold" fill="#151515" stroke="#151515" stroke-width="0.09" letter-spacing="0.12" >NiCr@NiFe-LDH</text>
<line x1="406.70" y1="38.70" x2="417.70" y2="38.70" stroke="#F2404F" stroke-width="0.6" />
<path d="M412.30,40.05 L413.65,37.76 L410.95,37.76Z" fill="#F2404F"/>
<text x="420.60" y="40.40" font-size="4.6" text-anchor="start" font-weight="bold" fill="#151515" stroke="#151515" stroke-width="0.09" letter-spacing="0.12" >NiFe@NiCr-LDH</text>
<text x="486.20" y="20.70" font-size="5.3" text-anchor="start" font-weight="bold" fill="#F2404F" stroke="#F2404F" stroke-width="0.09" >0.45 mF cm<tspan font-size="3.5" dy="-2.2">-2</tspan></text>
<text x="507.40" y="45.90" font-size="5.3" text-anchor="start" font-weight="bold" fill="#43AE47" stroke="#43AE47" stroke-width="0.09" >0.42 mF cm<tspan font-size="3.5" dy="-2.2">-2</tspan></text>
<text x="506.80" y="61.50" font-size="5.3" text-anchor="start" font-weight="bold" fill="#F7A23A" stroke="#F7A23A" stroke-width="0.09" >0.35 mF cm<tspan font-size="3.5" dy="-2.2">-2</tspan></text>
<text x="506.20" y="73.80" font-size="5.3" text-anchor="start" font-weight="bold" fill="#8E2A2A" stroke="#8E2A2A" stroke-width="0.09" >0.27 mF cm<tspan font-size="3.5" dy="-2.2">-2</tspan></text>
<text x="506.20" y="90.20" font-size="5.3" text-anchor="start" font-weight="bold" fill="#1FA3A6" stroke="#1FA3A6" stroke-width="0.09" >0.21 mF cm<tspan font-size="3.5" dy="-2.2">-2</tspan></text>
<text x="9.50" y="158.30" font-size="14.5" text-anchor="middle" font-weight="bold" fill="#000" stroke="#000" stroke-width="0.3" >d</text>
<rect x="33.0" y="151.5" width="139.5" height="106.80000000000001" fill="none" stroke="#6a6a6a" stroke-width="1.0"/>
<line x1="31.00" y1="258.20" x2="33.00" y2="258.20" stroke="#555" stroke-width="0.7" />
<text x="28.90" y="260.30" font-size="5.4" text-anchor="end" font-weight="bold" fill="#151515" stroke="#151515" stroke-width="0.09" >0</text>
<line x1="31.00" y1="244.88" x2="33.00" y2="244.88" stroke="#555" stroke-width="0.7" />
<text x="28.90" y="246.97" font-size="5.4" text-anchor="end" font-weight="bold" fill="#151515" stroke="#151515" stroke-width="0.09" >-10</text>
<line x1="31.00" y1="231.55" x2="33.00" y2="231.55" stroke="#555" stroke-width="0.7" />
<text x="28.90" y="233.65" font-size="5.4" text-anchor="end" font-weight="bold" fill="#151515" stroke="#151515" stroke-width="0.09" >-20</text>
<line x1="31.00" y1="218.22" x2="33.00" y2="218.22" stroke="#555" stroke-width="0.7" />
<text x="28.90" y="220.32" font-size="5.4" text-anchor="end" font-weight="bold" fill="#151515" stroke="#151515" stroke-width="0.09" >-30</text>
<line x1="31.00" y1="204.90" x2="33.00" y2="204.90" stroke="#555" stroke-width="0.7" />
<text x="28.90" y="207.00" font-size="5.4" text-anchor="end" font-weight="bold" fill="#151515" stroke="#151515" stroke-width="0.09" >-40</text>
<line x1="31.00" y1="191.57" x2="33.00" y2="191.57" stroke="#555" stroke-width="0.7" />
<text x="28.90" y="193.67" font-size="5.4" text-anchor="end" font-weight="bold" fill="#151515" stroke="#151515" stroke-width="0.09" >-50</text>
<line x1="31.00" y1="178.25" x2="33.00" y2="178.25" stroke="#555" stroke-width="0.7" />
<text x="28.90" y="180.35" font-size="5.4" text-anchor="end" font-weight="bold" fill="#151515" stroke="#151515" stroke-width="0.09" >-60</text>
<line x1="31.00" y1="164.92" x2="33.00" y2="164.92" stroke="#555" stroke-width="0.7" />
<text x="28.90" y="167.02" font-size="5.4" text-anchor="end" font-weight="bold" fill="#151515" stroke="#151515" stroke-width="0.09" >-70</text>
<line x1="31.00" y1="151.60" x2="33.00" y2="151.60" stroke="#555" stroke-width="0.7" />
<text x="28.90" y="153.70" font-size="5.4" text-anchor="end" font-weight="bold" fill="#151515" stroke="#151515" stroke-width="0.09" >-80</text>
<line x1="31.70" y1="251.54" x2="33.00" y2="251.54" stroke="#555" stroke-width="0.6" />
<line x1="31.70" y1="238.21" x2="33.00" y2="238.21" stroke="#555" stroke-width="0.6" />
<line x1="31.70" y1="224.89" x2="33.00" y2="224.89" stroke="#555" stroke-width="0.6" />
<line x1="31.70" y1="211.56" x2="33.00" y2="211.56" stroke="#555" stroke-width="0.6" />
<line x1="31.70" y1="198.24" x2="33.00" y2="198.24" stroke="#555" stroke-width="0.6" />
<line x1="31.70" y1="184.91" x2="33.00" y2="184.91" stroke="#555" stroke-width="0.6" />
<line x1="31.70" y1="171.59" x2="33.00" y2="171.59" stroke="#555" stroke-width="0.6" />
<line x1="31.70" y1="158.26" x2="33.00" y2="158.26" stroke="#555" stroke-width="0.6" />
<line x1="33.10" y1="258.30" x2="33.10" y2="259.90" stroke="#555" stroke-width="0.7" />
<text x="33.10" y="266.60" font-size="5.1" text-anchor="middle" font-weight="bold" fill="#151515" stroke="#151515" stroke-width="0.09" >0</text>
<line x1="38.08" y1="258.30" x2="38.08" y2="259.30" stroke="#666" stroke-width="0.5" />
<line x1="43.06" y1="258.30" x2="43.06" y2="259.30" stroke="#666" stroke-width="0.5" />
<line x1="48.05" y1="258.30" x2="48.05" y2="259.30" stroke="#666" stroke-width="0.5" />
<line x1="53.03" y1="258.30" x2="53.03" y2="259.90" stroke="#555" stroke-width="0.7" />
<text x="53.03" y="266.60" font-size="5.1" text-anchor="middle" font-weight="bold" fill="#151515" stroke="#151515" stroke-width="0.09" >20</text>
<line x1="58.01" y1="258.30" x2="58.01" y2="259.30" stroke="#666" stroke-width="0.5" />
<line x1="62.99" y1="258.30" x2="62.99" y2="259.30" stroke="#666" stroke-width="0.5" />
<line x1="67.97" y1="258.30" x2="67.97" y2="259.30" stroke="#666" stroke-width="0.5" />
<line x1="72.96" y1="258.30" x2="72.96" y2="259.90" stroke="#555" stroke-width="0.7" />
<text x="72.96" y="266.60" font-size="5.1" text-anchor="middle" font-weight="bold" fill="#151515" stroke="#151515" stroke-width="0.09" >40</text>
<line x1="77.94" y1="258.30" x2="77.94" y2="259.30" stroke="#666" stroke-width="0.5" />
<line x1="82.92" y1="258.30" x2="82.92" y2="259.30" stroke="#666" stroke-width="0.5" />
<line x1="87.90" y1="258.30" x2="87.90" y2="259.30" stroke="#666" stroke-width="0.5" />
<line x1="92.88" y1="258.30" x2="92.88" y2="259.90" stroke="#555" stroke-width="0.7" />
<text x="92.88" y="266.60" font-size="5.1" text-anchor="middle" font-weight="bold" fill="#151515" stroke="#151515" stroke-width="0.09" >60</text>
<line x1="97.87" y1="258.30" x2="97.87" y2="259.30" stroke="#666" stroke-width="0.5" />
<line x1="102.85" y1="258.30" x2="102.85" y2="259.30" stroke="#666" stroke-width="0.5" />
<line x1="107.83" y1="258.30" x2="107.83" y2="259.30" stroke="#666" stroke-width="0.5" />
<line x1="112.81" y1="258.30" x2="112.81" y2="259.90" stroke="#555" stroke-width="0.7" />
<text x="112.81" y="266.60" font-size="5.1" text-anchor="middle" font-weight="bold" fill="#151515" stroke="#151515" stroke-width="0.09" >80</text>
<line x1="117.79" y1="258.30" x2="117.79" y2="259.30" stroke="#666" stroke-width="0.5" />
<line x1="122.78" y1="258.30" x2="122.78" y2="259.30" stroke="#666" stroke-width="0.5" />
<line x1="127.76" y1="258.30" x2="127.76" y2="259.30" stroke="#666" stroke-width="0.5" />
<line x1="132.74" y1="258.30" x2="132.74" y2="259.90" stroke="#555" stroke-width="0.7" />
<text x="132.74" y="266.60" font-size="5.1" text-anchor="middle" font-weight="bold" fill="#151515" stroke="#151515" stroke-width="0.09" >100</text>
<line x1="137.72" y1="258.30" x2="137.72" y2="259.30" stroke="#666" stroke-width="0.5" />
<line x1="142.70" y1="258.30" x2="142.70" y2="259.30" stroke="#666" stroke-width="0.5" />
<line x1="147.69" y1="258.30" x2="147.69" y2="259.30" stroke="#666" stroke-width="0.5" />
<line x1="152.67" y1="258.30" x2="152.67" y2="259.90" stroke="#555" stroke-width="0.7" />
<text x="152.67" y="266.60" font-size="5.1" text-anchor="middle" font-weight="bold" fill="#151515" stroke="#151515" stroke-width="0.09" >120</text>
<line x1="157.65" y1="258.30" x2="157.65" y2="259.30" stroke="#666" stroke-width="0.5" />
<line x1="162.63" y1="258.30" x2="162.63" y2="259.30" stroke="#666" stroke-width="0.5" />
<line x1="167.61" y1="258.30" x2="167.61" y2="259.30" stroke="#666" stroke-width="0.5" />
<line x1="172.60" y1="258.30" x2="172.60" y2="259.90" stroke="#555" stroke-width="0.7" />
<text x="172.60" y="266.60" font-size="5.1" text-anchor="middle" font-weight="bold" fill="#151515" stroke="#151515" stroke-width="0.09" >140</text>
<text x="105.50" y="273.80" font-size="6.8" text-anchor="middle" font-weight="bold" fill="#151515" stroke="#151515" stroke-width="0.09" >Z' (Ohm)</text>
<text transform="translate(18.5,203.8) rotate(-90)" font-size="7" text-anchor="middle" font-weight="bold" fill="#222" stroke="#222" stroke-width="0.04">Z" (Ohm)</text>
<line x1="35.40" y1="157.80" x2="47.10" y2="157.80" stroke="#F7931E" stroke-width="1.0" opacity="0.45"/>
<rect x="40.1" y="156.70" width="2.2" height="2.2" fill="#F7931E"/>
<text x="49.80" y="159.50" font-size="4.6" text-anchor="start" font-weight="bold" fill="#151515" stroke="#151515" stroke-width="0.09" letter-spacing="0.12" >NiFe-LDH</text>
<line x1="35.40" y1="163.85" x2="47.10" y2="163.85" stroke="#1A9FA3" stroke-width="1.0" opacity="0.45"/>
<rect x="40.1" y="162.75" width="2.2" height="2.2" fill="#1A9FA3"/>
<text x="49.80" y="165.55" font-size="4.6" text-anchor="start" font-weight="bold" fill="#151515" stroke="#151515" stroke-width="0.09" letter-spacing="0.12" >NiCr-LDH</text>
<line x1="35.40" y1="169.90" x2="47.10" y2="169.90" stroke="#3EA63F" stroke-width="1.0" opacity="0.45"/>
<rect x="40.1" y="168.80" width="2.2" height="2.2" fill="#3EA63F"/>
<text x="49.80" y="171.60" font-size="4.6" text-anchor="start" font-weight="bold" fill="#151515" stroke="#151515" stroke-width="0.09" letter-spacing="0.12" >NiCrFe-LTH</text>
<line x1="35.40" y1="175.95" x2="47.10" y2="175.95" stroke="#8E1F2A" stroke-width="1.0" opacity="0.45"/>
<rect x="40.1" y="174.85" width="2.2" height="2.2" fill="#8E1F2A"/>
<text x="49.80" y="177.65" font-size="4.6" text-anchor="start" font-weight="bold" fill="#151515" stroke="#151515" stroke-width="0.09" letter-spacing="0.12" >NiCr@NiFe-LDH</text>
<line x1="35.40" y1="182.00" x2="47.10" y2="182.00" stroke="#F21B23" stroke-width="1.0" opacity="0.45"/>
<rect x="40.1" y="180.90" width="2.2" height="2.2" fill="#F21B23"/>
<text x="49.80" y="183.70" font-size="4.6" text-anchor="start" font-weight="bold" fill="#151515" stroke="#151515" stroke-width="0.09" letter-spacing="0.12" >NiFe@NiCr-LDH</text>
<path d="M39.00,255.50 L39.67,255.45 L40.34,255.32 L41.01,255.11 L41.68,254.84 L42.35,254.50 L43.02,254.11 L43.69,253.43 L44.36,251.95 L45.03,249.89 L45.70,247.52 L46.37,245.10 L47.04,242.89 L47.71,241.16 L48.38,239.70 L49.05,238.34 L49.72,237.06 L50.39,235.84 L51.06,234.66 L51.73,233.52 L52.40,232.40 L53.07,231.30 L53.74,230.28 L54.41,229.30 L55.08,228.33 L55.75,227.33 L56.42,226.27 L57.09,225.12 L57.76,223.89 L58.43,222.66 L59.10,221.47 L59.77,220.38 L60.44,219.34 L61.11,218.32 L61.77,217.33 L62.44,216.37 L63.11,215.44 L63.78,214.55 L64.45,213.68 L65.12,212.85 L65.79,212.05 L66.46,211.28 L67.13,210.53 L67.80,209.81 L68.47,209.12 L69.14,208.44 L69.81,207.79 L70.48,207.15 L71.15,206.52 L71.82,205.90 L72.49,205.29 L73.16,204.70 L73.83,204.11 L74.50,203.53 L75.17,202.96 L75.84,202.40 L76.51,201.85 L77.18,201.31 L77.85,200.78 L78.52,200.25 L79.19,199.73 L79.86,199.23 L80.53,198.73 L81.20,198.23 L81.87,197.75 L82.54,197.28 L83.21,196.83 L83.88,196.38 L84.55,195.93 L85.22,195.50 L85.89,195.07 L86.56,194.65 L87.23,194.23 L87.90,193.81 L88.57,193.40 L89.24,192.98 L89.91,192.57 L90.58,192.16 L91.25,191.76 L91.92,191.37 L92.59,190.98 L93.26,190.60 L93.93,190.24 L94.60,189.89 L95.27,189.56 L95.94,189.24 L96.61,188.93 L97.28,188.63 L97.95,188.34 L98.62,188.05 L99.29,187.77 L99.96,187.50 L100.63,187.24 L101.30,186.99 L101.97,186.74 L102.64,186.51 L103.31,186.29 L103.98,186.08 L104.65,185.87 L105.32,185.67 L105.98,185.47 L106.65,185.28 L107.32,185.10 L107.99,184.92 L108.66,184.75 L109.33,184.59 L110.00,184.43 L110.67,184.29 L111.34,184.16 L112.01,184.03 L112.68,183.92 L113.35,183.80 L114.02,183.68 L114.69,183.56 L115.36,183.45 L116.03,183.34 L116.70,183.24 L117.37,183.15 L118.04,183.06 L118.71,183.00 L119.38,182.95 L120.05,182.91 L120.72,182.90 L121.39,182.90 L122.06,182.91 L122.73,182.92 L123.40,182.94 L124.07,182.96 L124.74,182.99 L125.41,183.02 L126.08,183.05 L126.75,183.09 L127.42,183.13 L128.09,183.17 L128.76,183.21 L129.43,183.26 L130.10,183.31 L130.77,183.37 L131.44,183.45 L132.11,183.54 L132.78,183.65 L133.45,183.77 L134.12,183.91 L134.79,184.05 L135.46,184.20 L136.13,184.35 L136.80,184.51 L137.47,184.66 L138.14,184.82 L138.81,184.98 L139.48,185.13 L140.15,185.29 L140.82,185.46 L141.49,185.63 L142.16,185.81 L142.83,185.99 L143.50,186.18 L144.17,186.38 L144.84,186.58 L145.51,186.79 L146.18,187.02 L146.85,187.25 L147.52,187.49 L148.19,187.75 L148.86,188.03 L149.53,188.33 L150.19,188.64 L150.86,188.96 L151.53,189.29 L152.20,189.63 L152.87,189.97 L153.54,190.31 L154.21,190.66 L154.88,191.00 L155.55,191.36 L156.22,191.72 L156.89,192.10 L157.56,192.47 L158.23,192.86 L158.90,193.25 L159.57,193.64 L160.24,194.03 L160.91,194.43 L161.58,194.82 L162.25,195.22 L162.92,195.61 L163.59,196.00 L164.26,196.40 L164.93,196.81 L165.60,197.23 L166.27,197.66 L166.94,198.12 L167.61,198.60 L168.28,199.10 L168.95,199.62 L169.62,200.16 L170.29,200.72 L170.96,201.30 L171.63,201.89 L172.30,202.50" fill="none" stroke="#F7931E" stroke-width="0.65" stroke-linejoin="round" />
<circle cx="39.00" cy="255.50" r="1.15" fill="#F7931E"/>
<circle cx="45.03" cy="249.89" r="1.15" fill="#F7931E"/>
<circle cx="47.71" cy="241.16" r="1.15" fill="#F7931E"/>
<circle cx="51.06" cy="234.66" r="1.15" fill="#F7931E"/>
<circle cx="55.08" cy="228.33" r="1.15" fill="#F7931E"/>
<circle cx="59.77" cy="220.38" r="1.15" fill="#F7931E"/>
<circle cx="64.45" cy="213.68" r="1.15" fill="#F7931E"/>
<circle cx="69.81" cy="207.79" r="1.15" fill="#F7931E"/>
<circle cx="75.84" cy="202.40" r="1.15" fill="#F7931E"/>
<circle cx="81.87" cy="197.75" r="1.15" fill="#F7931E"/>
<circle cx="89.24" cy="192.98" r="1.15" fill="#F7931E"/>
<circle cx="95.94" cy="189.24" r="1.15" fill="#F7931E"/>
<circle cx="103.98" cy="186.08" r="1.15" fill="#F7931E"/>
<circle cx="112.01" cy="184.03" r="1.15" fill="#F7931E"/>
<circle cx="120.05" cy="182.91" r="1.15" fill="#F7931E"/>
<circle cx="128.09" cy="183.17" r="1.15" fill="#F7931E"/>
<circle cx="136.13" cy="184.35" r="1.15" fill="#F7931E"/>
<circle cx="144.17" cy="186.38" r="1.15" fill="#F7931E"/>
<circle cx="152.20" cy="189.63" r="1.15" fill="#F7931E"/>
<circle cx="158.90" cy="193.25" r="1.15" fill="#F7931E"/>
<circle cx="166.27" cy="197.66" r="1.15" fill="#F7931E"/>
<circle cx="172.30" cy="202.50" r="1.15" fill="#F7931E"/>
<path d="M39.00,255.50 L39.37,255.48 L39.73,255.43 L40.10,255.33 L40.46,255.21 L40.83,255.05 L41.19,254.86 L41.56,254.64 L41.92,254.39 L42.29,254.11 L42.65,253.81 L43.02,253.48 L43.38,252.86 L43.75,251.84 L44.11,250.59 L44.48,249.30 L44.85,248.12 L45.21,247.17 L45.58,246.27 L45.94,245.38 L46.31,244.50 L46.67,243.65 L47.04,242.81 L47.40,242.00 L47.77,241.20 L48.13,240.44 L48.50,239.70 L48.86,238.98 L49.23,238.30 L49.59,237.65 L49.96,237.03 L50.33,236.44 L50.69,235.87 L51.06,235.31 L51.42,234.77 L51.79,234.25 L52.15,233.74 L52.52,233.25 L52.88,232.78 L53.25,232.33 L53.61,231.89 L53.98,231.47 L54.34,231.07 L54.71,230.69 L55.07,230.32 L55.44,229.97 L55.81,229.65 L56.17,229.33 L56.54,229.03 L56.90,228.74 L57.27,228.46 L57.63,228.19 L58.00,227.92 L58.36,227.66 L58.73,227.41 L59.09,227.16 L59.46,226.91 L59.82,226.67 L60.19,226.42 L60.55,226.17 L60.92,225.92 L61.28,225.66 L61.65,225.39 L62.02,225.13 L62.38,224.86 L62.75,224.59 L63.11,224.32 L63.48,224.06 L63.84,223.81 L64.21,223.56 L64.57,223.32 L64.94,223.10 L65.30,222.88 L65.67,222.69 L66.03,222.50 L66.40,222.34 L66.76,222.19 L67.13,222.05 L67.50,221.91 L67.86,221.78 L68.23,221.64 L68.59,221.52 L68.96,221.39 L69.32,221.27 L69.69,221.16 L70.05,221.04 L70.42,220.94 L70.78,220.83 L71.15,220.73 L71.51,220.64 L71.88,220.55 L72.24,220.46 L72.61,220.37 L72.98,220.30 L73.34,220.22 L73.71,220.15 L74.07,220.09 L74.44,220.03 L74.80,219.97 L75.17,219.91 L75.53,219.85 L75.90,219.80 L76.26,219.74 L76.63,219.69 L76.99,219.63 L77.36,219.58 L77.72,219.54 L78.09,219.49 L78.46,219.45 L78.82,219.41 L79.19,219.38 L79.55,219.35 L79.92,219.33 L80.28,219.31 L80.65,219.30 L81.01,219.30 L81.38,219.31 L81.74,219.32 L82.11,219.35 L82.47,219.38 L82.84,219.43 L83.20,219.48 L83.57,219.54 L83.94,219.60 L84.30,219.67 L84.67,219.75 L85.03,219.82 L85.40,219.91 L85.76,219.99 L86.13,220.08 L86.49,220.16 L86.86,220.25 L87.22,220.34 L87.59,220.42 L87.95,220.51 L88.32,220.61 L88.68,220.72 L89.05,220.83 L89.42,220.95 L89.78,221.08 L90.15,221.21 L90.51,221.34 L90.88,221.48 L91.24,221.63 L91.61,221.78 L91.97,221.93 L92.34,222.08 L92.70,222.24 L93.07,222.39 L93.43,222.55 L93.80,222.71 L94.16,222.87 L94.53,223.03 L94.89,223.20 L95.26,223.36 L95.63,223.53 L95.99,223.70 L96.36,223.88 L96.72,224.06 L97.09,224.24 L97.45,224.43 L97.82,224.62 L98.18,224.82 L98.55,225.03 L98.91,225.25 L99.28,225.47 L99.64,225.70 L100.01,225.94 L100.37,226.18 L100.74,226.44 L101.11,226.73 L101.47,227.03 L101.84,227.34 L102.20,227.67 L102.57,228.02 L102.93,228.38 L103.30,228.74 L103.66,229.12 L104.03,229.50 L104.39,229.89 L104.76,230.28 L105.12,230.67 L105.49,231.05 L105.85,231.44 L106.22,231.83 L106.59,232.21 L106.95,232.60 L107.32,233.00 L107.68,233.40 L108.05,233.81 L108.41,234.22 L108.78,234.63 L109.14,235.05 L109.51,235.47 L109.87,235.90 L110.24,236.33 L110.60,236.77 L110.97,237.21 L111.33,237.65 L111.70,238.10" fill="none" stroke="#8E1F2A" stroke-width="0.65" stroke-linejoin="round" />
<path d="M39.00,256.65 L40.15,254.69 L37.85,254.69Z" fill="#8E1F2A"/>
<path d="M41.92,255.54 L43.07,253.58 L40.77,253.58Z" fill="#8E1F2A"/>
<path d="M43.75,252.99 L44.90,251.03 L42.60,251.03Z" fill="#8E1F2A"/>
<path d="M44.48,250.45 L45.63,248.49 L43.33,248.49Z" fill="#8E1F2A"/>
<path d="M45.58,247.42 L46.73,245.46 L44.43,245.46Z" fill="#8E1F2A"/>
<path d="M46.67,244.80 L47.82,242.84 L45.52,242.84Z" fill="#8E1F2A"/>
<path d="M47.77,242.35 L48.92,240.40 L46.62,240.40Z" fill="#8E1F2A"/>
<path d="M49.23,239.45 L50.38,237.50 L48.08,237.50Z" fill="#8E1F2A"/>
<path d="M50.69,237.02 L51.84,235.06 L49.54,235.06Z" fill="#8E1F2A"/>
<path d="M52.52,234.40 L53.67,232.45 L51.37,232.45Z" fill="#8E1F2A"/>
<path d="M54.34,232.22 L55.49,230.26 L53.19,230.26Z" fill="#8E1F2A"/>
<path d="M56.17,230.48 L57.32,228.52 L55.02,228.52Z" fill="#8E1F2A"/>
<path d="M58.73,228.56 L59.88,226.61 L57.58,226.61Z" fill="#8E1F2A"/>
<path d="M60.92,227.07 L62.07,225.11 L59.77,225.11Z" fill="#8E1F2A"/>
<path d="M63.48,225.21 L64.63,223.26 L62.33,223.26Z" fill="#8E1F2A"/>
<path d="M66.03,223.65 L67.18,221.70 L64.88,221.70Z" fill="#8E1F2A"/>
<path d="M68.59,222.67 L69.74,220.71 L67.44,220.71Z" fill="#8E1F2A"/>
<path d="M71.51,221.79 L72.66,219.83 L70.36,219.83Z" fill="#8E1F2A"/>
<path d="M74.44,221.18 L75.59,219.22 L73.29,219.22Z" fill="#8E1F2A"/>
<path d="M77.36,220.73 L78.51,218.78 L76.21,218.78Z" fill="#8E1F2A"/>
<path d="M80.28,220.46 L81.43,218.51 L79.13,218.51Z" fill="#8E1F2A"/>
<path d="M83.20,220.63 L84.35,218.67 L82.05,218.67Z" fill="#8E1F2A"/>
<path d="M86.13,221.23 L87.28,219.27 L84.98,219.27Z" fill="#8E1F2A"/>
<path d="M88.68,221.87 L89.83,219.91 L87.53,219.91Z" fill="#8E1F2A"/>
<path d="M91.61,222.93 L92.76,220.97 L90.46,220.97Z" fill="#8E1F2A"/>
<path d="M94.16,224.02 L95.31,222.07 L93.01,222.07Z" fill="#8E1F2A"/>
<path d="M97.09,225.39 L98.24,223.43 L95.94,223.43Z" fill="#8E1F2A"/>
<path d="M99.64,226.85 L100.79,224.89 L98.49,224.89Z" fill="#8E1F2A"/>
<path d="M101.84,228.49 L102.99,226.54 L100.69,226.54Z" fill="#8E1F2A"/>
<path d="M104.03,230.65 L105.18,228.70 L102.88,228.70Z" fill="#8E1F2A"/>
<path d="M106.22,232.98 L107.37,231.02 L105.07,231.02Z" fill="#8E1F2A"/>
<path d="M108.05,234.96 L109.20,233.00 L106.90,233.00Z" fill="#8E1F2A"/>
<path d="M109.87,237.05 L111.02,235.10 L108.72,235.10Z" fill="#8E1F2A"/>
<path d="M111.70,239.25 L112.85,237.29 L110.55,237.29Z" fill="#8E1F2A"/>
<path d="M39.40,253.20 L39.74,253.38 L40.09,253.56 L40.43,253.73 L40.77,253.89 L41.12,254.05 L41.46,254.20 L41.80,254.33 L42.15,254.46 L42.49,254.57 L42.83,254.67 L43.18,254.77 L43.52,254.87 L43.86,254.96 L44.21,255.06 L44.55,255.15 L44.89,255.24 L45.23,255.32 L45.58,255.39 L45.92,255.45 L46.26,255.51 L46.61,255.55 L46.95,255.58 L47.29,255.60 L47.64,255.58 L47.98,255.37 L48.32,254.96 L48.67,254.38 L49.01,253.67 L49.35,252.87 L49.70,252.00 L50.04,251.10 L50.38,250.20 L50.73,249.35 L51.07,248.57 L51.41,247.87 L51.76,247.15 L52.10,246.41 L52.44,245.66 L52.79,244.92 L53.13,244.18 L53.47,243.47 L53.82,242.79 L54.16,242.15 L54.50,241.56 L54.84,241.02 L55.19,240.51 L55.53,240.02 L55.87,239.54 L56.22,239.09 L56.56,238.65 L56.90,238.23 L57.25,237.82 L57.59,237.42 L57.93,237.03 L58.28,236.65 L58.62,236.28 L58.96,235.91 L59.31,235.55 L59.65,235.21 L59.99,234.87 L60.34,234.54 L60.68,234.22 L61.02,233.91 L61.37,233.61 L61.71,233.32 L62.05,233.04 L62.40,232.77 L62.74,232.51 L63.08,232.27 L63.43,232.03 L63.77,231.80 L64.11,231.57 L64.45,231.35 L64.80,231.13 L65.14,230.91 L65.48,230.68 L65.83,230.44 L66.17,230.20 L66.51,229.96 L66.86,229.73 L67.20,229.50 L67.54,229.29 L67.89,229.10 L68.23,228.93 L68.57,228.78 L68.92,228.66 L69.26,228.55 L69.60,228.45 L69.95,228.35 L70.29,228.26 L70.63,228.17 L70.98,228.09 L71.32,228.01 L71.66,227.94 L72.01,227.87 L72.35,227.81 L72.69,227.75 L73.04,227.70 L73.38,227.66 L73.72,227.62 L74.06,227.58 L74.41,227.55 L74.75,227.52 L75.09,227.49 L75.44,227.46 L75.78,227.44 L76.12,227.41 L76.47,227.39 L76.81,227.37 L77.15,227.35 L77.50,227.33 L77.84,227.32 L78.18,227.31 L78.53,227.30 L78.87,227.30 L79.21,227.31 L79.56,227.32 L79.90,227.35 L80.24,227.39 L80.59,227.44 L80.93,227.49 L81.27,227.55 L81.62,227.62 L81.96,227.69 L82.30,227.76 L82.65,227.83 L82.99,227.91 L83.33,227.98 L83.67,228.05 L84.02,228.12 L84.36,228.20 L84.70,228.27 L85.05,228.35 L85.39,228.44 L85.73,228.53 L86.08,228.62 L86.42,228.71 L86.76,228.81 L87.11,228.91 L87.45,229.01 L87.79,229.12 L88.14,229.22 L88.48,229.33 L88.82,229.44 L89.17,229.55 L89.51,229.67 L89.85,229.79 L90.20,229.92 L90.54,230.04 L90.88,230.18 L91.23,230.31 L91.57,230.45 L91.91,230.59 L92.26,230.74 L92.60,230.88 L92.94,231.03 L93.28,231.18 L93.63,231.33 L93.97,231.49 L94.31,231.64 L94.66,231.80 L95.00,231.96 L95.34,232.11 L95.69,232.27 L96.03,232.44 L96.37,232.60 L96.72,232.77 L97.06,232.94 L97.40,233.11 L97.75,233.28 L98.09,233.46 L98.43,233.64 L98.78,233.82 L99.12,234.00 L99.46,234.19 L99.81,234.38 L100.15,234.58 L100.49,234.78 L100.84,234.98 L101.18,235.19 L101.52,235.40 L101.87,235.61 L102.21,235.83 L102.55,236.06 L102.89,236.30 L103.24,236.54 L103.58,236.79 L103.92,237.04 L104.27,237.31 L104.61,237.57 L104.95,237.85 L105.30,238.13 L105.64,238.41 L105.98,238.70 L106.33,238.99 L106.67,239.29 L107.01,239.59 L107.36,239.89 L107.70,240.20" fill="none" stroke="#3EA63F" stroke-width="0.65" stroke-linejoin="round" />
<path d="M39.40,251.90 L40.70,254.11 L38.10,254.11Z" fill="#3EA63F"/>
<path d="M41.80,253.03 L43.10,255.24 L40.50,255.24Z" fill="#3EA63F"/>
<path d="M44.55,253.85 L45.85,256.06 L43.25,256.06Z" fill="#3EA63F"/>
<path d="M46.95,254.28 L48.25,256.49 L45.65,256.49Z" fill="#3EA63F"/>
<path d="M49.01,252.37 L50.31,254.58 L47.71,254.58Z" fill="#3EA63F"/>
<path d="M50.04,249.80 L51.34,252.01 L48.74,252.01Z" fill="#3EA63F"/>
<path d="M50.73,248.05 L52.03,250.26 L49.43,250.26Z" fill="#3EA63F"/>
<path d="M52.10,245.11 L53.40,247.32 L50.80,247.32Z" fill="#3EA63F"/>
<path d="M53.13,242.88 L54.43,245.09 L51.83,245.09Z" fill="#3EA63F"/>
<path d="M54.16,240.85 L55.46,243.06 L52.86,243.06Z" fill="#3EA63F"/>
<path d="M55.53,238.72 L56.83,240.93 L54.23,240.93Z" fill="#3EA63F"/>
<path d="M57.25,236.52 L58.55,238.73 L55.95,238.73Z" fill="#3EA63F"/>
<path d="M58.96,234.61 L60.26,236.82 L57.66,236.82Z" fill="#3EA63F"/>
<path d="M60.68,232.92 L61.98,235.13 L59.38,235.13Z" fill="#3EA63F"/>
<path d="M62.74,231.21 L64.04,233.42 L61.44,233.42Z" fill="#3EA63F"/>
<path d="M65.14,229.61 L66.44,231.82 L63.84,231.82Z" fill="#3EA63F"/>
<path d="M67.20,228.20 L68.50,230.41 L65.90,230.41Z" fill="#3EA63F"/>
<path d="M69.60,227.15 L70.90,229.36 L68.30,229.36Z" fill="#3EA63F"/>
<path d="M72.01,226.57 L73.31,228.78 L70.71,228.78Z" fill="#3EA63F"/>
<path d="M74.75,226.22 L76.05,228.43 L73.45,228.43Z" fill="#3EA63F"/>
<path d="M77.15,226.05 L78.45,228.26 L75.85,228.26Z" fill="#3EA63F"/>
<path d="M79.90,226.05 L81.20,228.26 L78.60,228.26Z" fill="#3EA63F"/>
<path d="M82.30,226.46 L83.60,228.67 L81.00,228.67Z" fill="#3EA63F"/>
<path d="M85.05,227.05 L86.35,229.26 L83.75,229.26Z" fill="#3EA63F"/>
<path d="M87.45,227.71 L88.75,229.92 L86.15,229.92Z" fill="#3EA63F"/>
<path d="M89.85,228.49 L91.15,230.70 L88.55,230.70Z" fill="#3EA63F"/>
<path d="M92.26,229.44 L93.56,231.65 L90.96,231.65Z" fill="#3EA63F"/>
<path d="M94.66,230.50 L95.96,232.71 L93.36,232.71Z" fill="#3EA63F"/>
<path d="M97.06,231.64 L98.36,233.85 L95.76,233.85Z" fill="#3EA63F"/>
<path d="M99.46,232.89 L100.76,235.10 L98.16,235.10Z" fill="#3EA63F"/>
<path d="M101.87,234.31 L103.17,236.52 L100.57,236.52Z" fill="#3EA63F"/>
<path d="M103.92,235.74 L105.22,237.95 L102.62,237.95Z" fill="#3EA63F"/>
<path d="M105.98,237.40 L107.28,239.61 L104.68,239.61Z" fill="#3EA63F"/>
<path d="M107.70,238.90 L109.00,241.11 L106.40,241.11Z" fill="#3EA63F"/>
<path d="M38.00,255.50 L38.25,255.50 L38.49,255.50 L38.74,255.49 L38.99,255.49 L39.23,255.48 L39.48,255.47 L39.73,255.46 L39.97,255.44 L40.22,255.43 L40.47,255.41 L40.71,255.39 L40.96,255.37 L41.21,255.35 L41.45,255.32 L41.70,255.29 L41.95,255.26 L42.19,255.22 L42.44,255.19 L42.69,255.15 L42.93,255.11 L43.18,255.06 L43.43,255.01 L43.67,254.91 L43.92,254.60 L44.17,254.13 L44.42,253.53 L44.66,252.84 L44.91,252.09 L45.16,251.33 L45.40,250.60 L45.65,249.93 L45.90,249.31 L46.14,248.65 L46.39,247.98 L46.64,247.29 L46.88,246.62 L47.13,245.98 L47.38,245.38 L47.62,244.84 L47.87,244.38 L48.12,243.95 L48.36,243.54 L48.61,243.16 L48.86,242.80 L49.10,242.45 L49.35,242.12 L49.60,241.81 L49.84,241.51 L50.09,241.23 L50.34,240.97 L50.58,240.72 L50.83,240.47 L51.08,240.24 L51.32,240.02 L51.57,239.80 L51.82,239.59 L52.06,239.39 L52.31,239.20 L52.56,239.02 L52.80,238.85 L53.05,238.68 L53.30,238.52 L53.54,238.37 L53.79,238.23 L54.04,238.08 L54.28,237.95 L54.53,237.81 L54.78,237.68 L55.02,237.55 L55.27,237.43 L55.52,237.31 L55.76,237.20 L56.01,237.09 L56.26,236.98 L56.51,236.88 L56.75,236.79 L57.00,236.70 L57.25,236.62 L57.49,236.54 L57.74,236.46 L57.99,236.39 L58.23,236.32 L58.48,236.25 L58.73,236.18 L58.97,236.12 L59.22,236.06 L59.47,236.00 L59.71,235.94 L59.96,235.89 L60.21,235.83 L60.45,235.78 L60.70,235.74 L60.95,235.69 L61.19,235.65 L61.44,235.61 L61.69,235.57 L61.93,235.53 L62.18,235.49 L62.43,235.45 L62.67,235.42 L62.92,235.38 L63.17,235.34 L63.41,235.31 L63.66,235.28 L63.91,235.26 L64.15,235.24 L64.40,235.22 L64.65,235.21 L64.89,235.20 L65.14,235.20 L65.39,235.21 L65.63,235.21 L65.88,235.23 L66.13,235.24 L66.37,235.26 L66.62,235.28 L66.87,235.31 L67.11,235.34 L67.36,235.36 L67.61,235.40 L67.85,235.43 L68.10,235.46 L68.35,235.50 L68.59,235.54 L68.84,235.58 L69.09,235.61 L69.34,235.66 L69.58,235.71 L69.83,235.78 L70.08,235.84 L70.32,235.92 L70.57,236.00 L70.82,236.09 L71.06,236.18 L71.31,236.27 L71.56,236.37 L71.80,236.47 L72.05,236.57 L72.30,236.67 L72.54,236.78 L72.79,236.88 L73.04,237.00 L73.28,237.12 L73.53,237.24 L73.78,237.37 L74.02,237.51 L74.27,237.65 L74.52,237.80 L74.76,237.95 L75.01,238.10 L75.26,238.26 L75.50,238.42 L75.75,238.58 L76.00,238.74 L76.24,238.90 L76.49,239.06 L76.74,239.22 L76.98,239.39 L77.23,239.55 L77.48,239.72 L77.72,239.90 L77.97,240.07 L78.22,240.25 L78.46,240.43 L78.71,240.61 L78.96,240.79 L79.20,240.98 L79.45,241.17 L79.70,241.36 L79.94,241.55 L80.19,241.75 L80.44,241.95 L80.68,242.16 L80.93,242.36 L81.18,242.57 L81.43,242.79 L81.67,243.01 L81.92,243.23 L82.17,243.45 L82.41,243.68 L82.66,243.92 L82.91,244.16 L83.15,244.40 L83.40,244.65 L83.65,244.91 L83.89,245.16 L84.14,245.43 L84.39,245.70 L84.63,245.97 L84.88,246.25 L85.13,246.53 L85.37,246.81 L85.62,247.10 L85.87,247.39 L86.11,247.69 L86.36,247.98 L86.61,248.29 L86.85,248.59 L87.10,248.90" fill="none" stroke="#1A9FA3" stroke-width="0.65" stroke-linejoin="round" />
<rect x="37.20" y="254.70" width="1.6" height="1.6" fill="#1A9FA3"/>
<rect x="38.93" y="254.66" width="1.6" height="1.6" fill="#1A9FA3"/>
<rect x="40.65" y="254.52" width="1.6" height="1.6" fill="#1A9FA3"/>
<rect x="42.13" y="254.31" width="1.6" height="1.6" fill="#1A9FA3"/>
<rect x="43.37" y="253.33" width="1.6" height="1.6" fill="#1A9FA3"/>
<rect x="44.11" y="251.29" width="1.6" height="1.6" fill="#1A9FA3"/>
<rect x="44.60" y="249.80" width="1.6" height="1.6" fill="#1A9FA3"/>
<rect x="45.10" y="248.51" width="1.6" height="1.6" fill="#1A9FA3"/>
<rect x="45.84" y="246.49" width="1.6" height="1.6" fill="#1A9FA3"/>
<rect x="46.33" y="245.18" width="1.6" height="1.6" fill="#1A9FA3"/>
<rect x="46.82" y="244.04" width="1.6" height="1.6" fill="#1A9FA3"/>
<rect x="47.81" y="242.36" width="1.6" height="1.6" fill="#1A9FA3"/>
<rect x="48.80" y="241.01" width="1.6" height="1.6" fill="#1A9FA3"/>
<rect x="49.78" y="239.92" width="1.6" height="1.6" fill="#1A9FA3"/>
<rect x="51.02" y="238.79" width="1.6" height="1.6" fill="#1A9FA3"/>
<rect x="52.25" y="237.88" width="1.6" height="1.6" fill="#1A9FA3"/>
<rect x="53.73" y="237.01" width="1.6" height="1.6" fill="#1A9FA3"/>
<rect x="55.21" y="236.29" width="1.6" height="1.6" fill="#1A9FA3"/>
<rect x="56.69" y="235.74" width="1.6" height="1.6" fill="#1A9FA3"/>
<rect x="58.17" y="235.32" width="1.6" height="1.6" fill="#1A9FA3"/>
<rect x="59.90" y="234.94" width="1.6" height="1.6" fill="#1A9FA3"/>
<rect x="61.63" y="234.65" width="1.6" height="1.6" fill="#1A9FA3"/>
<rect x="63.11" y="234.46" width="1.6" height="1.6" fill="#1A9FA3"/>
<rect x="64.83" y="234.41" width="1.6" height="1.6" fill="#1A9FA3"/>
<rect x="66.56" y="234.56" width="1.6" height="1.6" fill="#1A9FA3"/>
<rect x="68.04" y="234.78" width="1.6" height="1.6" fill="#1A9FA3"/>
<rect x="69.77" y="235.20" width="1.6" height="1.6" fill="#1A9FA3"/>
<rect x="71.25" y="235.77" width="1.6" height="1.6" fill="#1A9FA3"/>
<rect x="72.73" y="236.44" width="1.6" height="1.6" fill="#1A9FA3"/>
<rect x="74.21" y="237.30" width="1.6" height="1.6" fill="#1A9FA3"/>
<rect x="75.44" y="238.10" width="1.6" height="1.6" fill="#1A9FA3"/>
<rect x="76.92" y="239.10" width="1.6" height="1.6" fill="#1A9FA3"/>
<rect x="78.16" y="239.99" width="1.6" height="1.6" fill="#1A9FA3"/>
<rect x="79.64" y="241.15" width="1.6" height="1.6" fill="#1A9FA3"/>
<rect x="80.87" y="242.21" width="1.6" height="1.6" fill="#1A9FA3"/>
<rect x="82.11" y="243.36" width="1.6" height="1.6" fill="#1A9FA3"/>
<rect x="83.09" y="244.36" width="1.6" height="1.6" fill="#1A9FA3"/>
<rect x="84.33" y="245.73" width="1.6" height="1.6" fill="#1A9FA3"/>
<rect x="85.31" y="246.89" width="1.6" height="1.6" fill="#1A9FA3"/>
<rect x="86.30" y="248.10" width="1.6" height="1.6" fill="#1A9FA3"/>
<path d="M38.30,255.80 L38.55,255.56 L38.80,255.33 L39.04,255.13 L39.29,254.94 L39.54,254.78 L39.79,254.63 L40.04,254.51 L40.29,254.42 L40.53,254.35 L40.78,254.31 L41.03,254.30 L41.28,254.33 L41.53,254.39 L41.78,254.49 L42.02,254.60 L42.27,254.73 L42.52,254.86 L42.77,254.99 L43.02,255.11 L43.26,255.20 L43.51,255.27 L43.76,255.30 L44.01,255.18 L44.26,254.78 L44.51,254.15 L44.75,253.37 L45.00,252.50 L45.25,251.62 L45.50,250.79 L45.75,250.07 L46.00,249.39 L46.24,248.69 L46.49,247.98 L46.74,247.28 L46.99,246.61 L47.24,245.99 L47.48,245.43 L47.73,244.94 L47.98,244.48 L48.23,244.03 L48.48,243.61 L48.73,243.21 L48.97,242.83 L49.22,242.47 L49.47,242.14 L49.72,241.83 L49.97,241.54 L50.22,241.28 L50.46,241.03 L50.71,240.80 L50.96,240.57 L51.21,240.36 L51.46,240.15 L51.71,239.96 L51.95,239.77 L52.20,239.59 L52.45,239.43 L52.70,239.26 L52.95,239.11 L53.19,238.96 L53.44,238.82 L53.69,238.68 L53.94,238.55 L54.19,238.42 L54.44,238.30 L54.68,238.18 L54.93,238.06 L55.18,237.95 L55.43,237.84 L55.68,237.74 L55.93,237.63 L56.17,237.54 L56.42,237.44 L56.67,237.35 L56.92,237.26 L57.17,237.18 L57.41,237.09 L57.66,237.01 L57.91,236.93 L58.16,236.85 L58.41,236.78 L58.66,236.70 L58.90,236.63 L59.15,236.56 L59.40,236.49 L59.65,236.42 L59.90,236.36 L60.15,236.29 L60.39,236.23 L60.64,236.18 L60.89,236.12 L61.14,236.07 L61.39,236.02 L61.63,235.97 L61.88,235.93 L62.13,235.88 L62.38,235.83 L62.63,235.78 L62.88,235.74 L63.12,235.69 L63.37,235.65 L63.62,235.61 L63.87,235.58 L64.12,235.55 L64.37,235.53 L64.61,235.51 L64.86,235.50 L65.11,235.50 L65.36,235.51 L65.61,235.52 L65.85,235.54 L66.10,235.56 L66.35,235.58 L66.60,235.62 L66.85,235.65 L67.10,235.69 L67.34,235.73 L67.59,235.77 L67.84,235.82 L68.09,235.86 L68.34,235.91 L68.59,235.96 L68.83,236.01 L69.08,236.06 L69.33,236.12 L69.58,236.18 L69.83,236.26 L70.07,236.33 L70.32,236.42 L70.57,236.51 L70.82,236.60 L71.07,236.70 L71.32,236.80 L71.56,236.91 L71.81,237.02 L72.06,237.14 L72.31,237.26 L72.56,237.38 L72.81,237.51 L73.05,237.65 L73.30,237.81 L73.55,237.98 L73.80,238.16 L74.05,238.35 L74.29,238.55 L74.54,238.75 L74.79,238.96 L75.04,239.18 L75.29,239.40 L75.54,239.62 L75.78,239.85 L76.03,240.07 L76.28,240.29 L76.53,240.52 L76.78,240.75 L77.03,240.98 L77.27,241.22 L77.52,241.47 L77.77,241.72 L78.02,241.98 L78.27,242.24 L78.52,242.50 L78.76,242.77 L79.01,243.03 L79.26,243.30 L79.51,243.56 L79.76,243.83 L80.00,244.09 L80.25,244.36 L80.50,244.62 L80.75,244.88 L81.00,245.15 L81.25,245.42 L81.49,245.69 L81.74,245.96 L81.99,246.23 L82.24,246.50 L82.49,246.77 L82.74,247.04 L82.98,247.31 L83.23,247.58 L83.48,247.85 L83.73,248.12 L83.98,248.38 L84.22,248.65 L84.47,248.91 L84.72,249.17 L84.97,249.44 L85.22,249.70 L85.47,249.96 L85.71,250.22 L85.96,250.48 L86.21,250.75 L86.46,251.01 L86.71,251.27 L86.96,251.52 L87.20,251.78 L87.45,252.04 L87.70,252.30" fill="none" stroke="#F21B23" stroke-width="0.9" stroke-linejoin="round" />
<circle cx="38.30" cy="255.80" r="1.15" fill="#F21B23"/>
<circle cx="39.79" cy="254.63" r="1.15" fill="#F21B23"/>
<circle cx="41.28" cy="254.33" r="1.15" fill="#F21B23"/>
<circle cx="43.02" cy="255.11" r="1.15" fill="#F21B23"/>
<circle cx="44.51" cy="254.15" r="1.15" fill="#F21B23"/>
<circle cx="45.00" cy="252.50" r="1.15" fill="#F21B23"/>
<circle cx="45.50" cy="250.79" r="1.15" fill="#F21B23"/>
<circle cx="46.00" cy="249.39" r="1.15" fill="#F21B23"/>
<circle cx="46.49" cy="247.98" r="1.15" fill="#F21B23"/>
<circle cx="46.99" cy="246.61" r="1.15" fill="#F21B23"/>
<circle cx="47.73" cy="244.94" r="1.15" fill="#F21B23"/>
<circle cx="48.73" cy="243.21" r="1.15" fill="#F21B23"/>
<circle cx="49.72" cy="241.83" r="1.15" fill="#F21B23"/>
<circle cx="50.71" cy="240.80" r="1.15" fill="#F21B23"/>
<circle cx="52.20" cy="239.59" r="1.15" fill="#F21B23"/>
<circle cx="53.44" cy="238.82" r="1.15" fill="#F21B23"/>
<circle cx="55.18" cy="237.95" r="1.15" fill="#F21B23"/>
<circle cx="56.67" cy="237.35" r="1.15" fill="#F21B23"/>
<circle cx="58.41" cy="236.78" r="1.15" fill="#F21B23"/>
<circle cx="59.90" cy="236.36" r="1.15" fill="#F21B23"/>
<circle cx="61.63" cy="235.97" r="1.15" fill="#F21B23"/>
<circle cx="63.37" cy="235.65" r="1.15" fill="#F21B23"/>
<circle cx="65.11" cy="235.50" r="1.15" fill="#F21B23"/>
<circle cx="66.85" cy="235.65" r="1.15" fill="#F21B23"/>
<circle cx="68.34" cy="235.91" r="1.15" fill="#F21B23"/>
<circle cx="70.07" cy="236.33" r="1.15" fill="#F21B23"/>
<circle cx="71.81" cy="237.02" r="1.15" fill="#F21B23"/>
<circle cx="73.30" cy="237.81" r="1.15" fill="#F21B23"/>
<circle cx="74.54" cy="238.75" r="1.15" fill="#F21B23"/>
<circle cx="76.03" cy="240.07" r="1.15" fill="#F21B23"/>
<circle cx="77.27" cy="241.22" r="1.15" fill="#F21B23"/>
<circle cx="78.52" cy="242.50" r="1.15" fill="#F21B23"/>
<circle cx="79.51" cy="243.56" r="1.15" fill="#F21B23"/>
<circle cx="80.75" cy="244.88" r="1.15" fill="#F21B23"/>
<circle cx="81.99" cy="246.23" r="1.15" fill="#F21B23"/>
<circle cx="82.98" cy="247.31" r="1.15" fill="#F21B23"/>
<circle cx="84.22" cy="248.65" r="1.15" fill="#F21B23"/>
<circle cx="85.47" cy="249.96" r="1.15" fill="#F21B23"/>
<circle cx="86.71" cy="251.27" r="1.15" fill="#F21B23"/>
<circle cx="87.70" cy="252.30" r="1.15" fill="#F21B23"/>
<line x1="88.90" y1="210.60" x2="103.50" y2="210.60" stroke="#808080" stroke-width="0.6" />
<line x1="111.30" y1="210.60" x2="124.40" y2="210.60" stroke="#808080" stroke-width="0.6" />
<line x1="132.90" y1="210.60" x2="144.50" y2="210.60" stroke="#808080" stroke-width="0.6" />
<line x1="153.00" y1="210.60" x2="164.60" y2="210.60" stroke="#808080" stroke-width="0.6" />
<path d="M103.50,210.60 L104.80,209.70 L106.10,211.50 L107.40,209.70 L108.70,211.50 L110.00,209.70 L111.30,210.60" fill="none" stroke="#808080" stroke-width="0.5" stroke-linejoin="round" />
<path d="M124.40,210.60 L125.82,209.70 L127.23,211.50 L128.65,209.70 L130.07,211.50 L131.48,209.70 L132.90,210.60" fill="none" stroke="#808080" stroke-width="0.5" stroke-linejoin="round" />
<path d="M144.50,210.60 L145.92,209.70 L147.33,211.50 L148.75,209.70 L150.17,211.50 L151.58,209.70 L153.00,210.60" fill="none" stroke="#808080" stroke-width="0.5" stroke-linejoin="round" />
<path d="M115.90,210.60 L115.90,219.70 L136.80,219.70 L136.80,210.60" fill="none" stroke="#808080" stroke-width="0.6" stroke-linejoin="round" />
<rect x="124.75" y="217.9" width="3.2" height="3.6" fill="#fff"/>
<line x1="125.05" y1="217.90" x2="125.05" y2="221.50" stroke="#808080" stroke-width="0.5" />
<line x1="127.65" y1="217.90" x2="127.65" y2="221.50" stroke="#808080" stroke-width="0.5" />
<path d="M125.75,218.7 L127.15,219.7 L125.75,220.7" fill="none" stroke="#808080" stroke-width="0.4"/>
<path d="M139.90,210.60 L139.90,219.70 L160.70,219.70 L160.70,210.60" fill="none" stroke="#808080" stroke-width="0.6" stroke-linejoin="round" />
<rect x="148.70" y="217.9" width="3.2" height="3.6" fill="#fff"/>
<line x1="149.00" y1="217.90" x2="149.00" y2="221.50" stroke="#808080" stroke-width="0.5" />
<line x1="151.60" y1="217.90" x2="151.60" y2="221.50" stroke="#808080" stroke-width="0.5" />
<path d="M149.70,218.7 L151.10,219.7 L149.70,220.7" fill="none" stroke="#808080" stroke-width="0.4"/>
<text x="106.50" y="208.20" font-size="5.8" text-anchor="middle" font-weight="bold" fill="#333" stroke="#333" stroke-width="0.09" >R<tspan font-size="3.6" dy="1">s</tspan></text>
<text x="129.50" y="208.20" font-size="5.8" text-anchor="middle" font-weight="bold" fill="#333" stroke="#333" stroke-width="0.09" >R<tspan font-size="3.6" dy="1">ct B</tspan></text>
<text x="150.00" y="208.20" font-size="5.8" text-anchor="middle" font-weight="bold" fill="#333" stroke="#333" stroke-width="0.09" >R<tspan font-size="3.6" dy="1">ct</tspan></text>
<text x="129.00" y="229.00" font-size="5.8" text-anchor="middle" font-weight="bold" fill="#333" stroke="#333" stroke-width="0.09" >C<tspan font-size="3.6" dy="1">dl B</tspan></text>
<text x="150.50" y="229.00" font-size="5.8" text-anchor="middle" font-weight="bold" fill="#333" stroke="#333" stroke-width="0.09" >C<tspan font-size="3.6" dy="1">dl</tspan></text>
<text x="196.20" y="158.80" font-size="15" text-anchor="middle" font-weight="bold" fill="#000" stroke="#000" stroke-width="0.3" >e</text>
<rect x="218.5" y="152.3" width="139.10000000000002" height="105.69999999999999" fill="none" stroke="#6a6a6a" stroke-width="1.0"/>
<line x1="216.50" y1="257.80" x2="218.50" y2="257.80" stroke="#555" stroke-width="0.7" />
<text x="214.50" y="259.80" font-size="5.1" text-anchor="end" font-weight="bold" fill="#151515" stroke="#151515" stroke-width="0.09" >0</text>
<line x1="216.50" y1="236.96" x2="218.50" y2="236.96" stroke="#555" stroke-width="0.7" />
<text x="214.50" y="238.96" font-size="5.1" text-anchor="end" font-weight="bold" fill="#151515" stroke="#151515" stroke-width="0.09" >2</text>
<line x1="216.50" y1="216.12" x2="218.50" y2="216.12" stroke="#555" stroke-width="0.7" />
<text x="214.50" y="218.12" font-size="5.1" text-anchor="end" font-weight="bold" fill="#151515" stroke="#151515" stroke-width="0.09" >4</text>
<line x1="216.50" y1="195.28" x2="218.50" y2="195.28" stroke="#555" stroke-width="0.7" />
<text x="214.50" y="197.28" font-size="5.1" text-anchor="end" font-weight="bold" fill="#151515" stroke="#151515" stroke-width="0.09" >6</text>
<line x1="216.50" y1="174.44" x2="218.50" y2="174.44" stroke="#555" stroke-width="0.7" />
<text x="214.50" y="176.44" font-size="5.1" text-anchor="end" font-weight="bold" fill="#151515" stroke="#151515" stroke-width="0.09" >8</text>
<line x1="216.50" y1="153.60" x2="218.50" y2="153.60" stroke="#555" stroke-width="0.7" />
<text x="214.50" y="155.60" font-size="5.1" text-anchor="end" font-weight="bold" fill="#151515" stroke="#151515" stroke-width="0.09" >10</text>
<line x1="217.30" y1="247.38" x2="218.50" y2="247.38" stroke="#555" stroke-width="0.6" />
<line x1="217.30" y1="226.54" x2="218.50" y2="226.54" stroke="#555" stroke-width="0.6" />
<line x1="217.30" y1="205.70" x2="218.50" y2="205.70" stroke="#555" stroke-width="0.6" />
<line x1="217.30" y1="184.86" x2="218.50" y2="184.86" stroke="#555" stroke-width="0.6" />
<line x1="217.30" y1="164.02" x2="218.50" y2="164.02" stroke="#555" stroke-width="0.6" />
<line x1="218.50" y1="258.00" x2="218.50" y2="259.60" stroke="#555" stroke-width="0.7" />
<text x="218.50" y="266.40" font-size="5.1" text-anchor="middle" font-weight="bold" fill="#151515" stroke="#151515" stroke-width="0.09" >0</text>
<line x1="232.50" y1="258.00" x2="232.50" y2="259.00" stroke="#555" stroke-width="0.6" />
<line x1="246.50" y1="258.00" x2="246.50" y2="259.60" stroke="#555" stroke-width="0.7" />
<text x="246.50" y="266.40" font-size="5.1" text-anchor="middle" font-weight="bold" fill="#151515" stroke="#151515" stroke-width="0.09" >5</text>
<line x1="260.50" y1="258.00" x2="260.50" y2="259.00" stroke="#555" stroke-width="0.6" />
<line x1="274.50" y1="258.00" x2="274.50" y2="259.60" stroke="#555" stroke-width="0.7" />
<text x="274.50" y="266.40" font-size="5.1" text-anchor="middle" font-weight="bold" fill="#151515" stroke="#151515" stroke-width="0.09" >10</text>
<line x1="288.50" y1="258.00" x2="288.50" y2="259.00" stroke="#555" stroke-width="0.6" />
<line x1="302.50" y1="258.00" x2="302.50" y2="259.60" stroke="#555" stroke-width="0.7" />
<text x="302.50" y="266.40" font-size="5.1" text-anchor="middle" font-weight="bold" fill="#151515" stroke="#151515" stroke-width="0.09" >15</text>
<line x1="316.50" y1="258.00" x2="316.50" y2="259.00" stroke="#555" stroke-width="0.6" />
<line x1="330.50" y1="258.00" x2="330.50" y2="259.60" stroke="#555" stroke-width="0.7" />
<text x="330.50" y="266.40" font-size="5.1" text-anchor="middle" font-weight="bold" fill="#151515" stroke="#151515" stroke-width="0.09" >20</text>
<line x1="344.50" y1="258.00" x2="344.50" y2="259.00" stroke="#555" stroke-width="0.6" />
<line x1="358.50" y1="258.00" x2="358.50" y2="259.60" stroke="#555" stroke-width="0.7" />
<text x="358.50" y="266.40" font-size="5.1" text-anchor="middle" font-weight="bold" fill="#151515" stroke="#151515" stroke-width="0.09" >25</text>
<text x="288.00" y="274.00" font-size="6.8" text-anchor="middle" font-weight="bold" fill="#151515" stroke="#151515" stroke-width="0.09" >t (h)</text>
<text transform="translate(207.3,199.0) rotate(-90)" font-size="7" text-anchor="middle" font-weight="bold" fill="#222" stroke="#222" stroke-width="0.04">j (mA cm<tspan font-size="4" dy="-2">-2</tspan><tspan dy="2">)</tspan></text>
<path d="M218.60,153.40 L219.66,154.91 L220.72,156.38 L221.78,157.79 L222.84,159.14 L223.89,160.43 L224.95,161.65 L226.01,162.80 L227.07,163.87 L228.13,164.89 L229.19,165.86 L230.25,166.79 L231.31,167.68 L232.36,168.52 L233.42,169.33 L234.48,170.10 L235.54,170.83 L236.60,171.52 L237.66,172.16 L238.72,172.76 L239.78,173.35 L240.84,173.93 L241.89,174.51 L242.95,175.11 L244.01,175.73 L245.07,176.38 L246.13,177.06 L247.19,177.75 L248.25,178.44 L249.31,179.11 L250.36,179.74 L251.42,180.32 L252.48,180.84 L253.54,181.30 L254.60,181.74 L255.66,182.15 L256.72,182.53 L257.78,182.90 L258.84,183.26 L259.89,183.61 L260.95,183.95 L262.01,184.30 L263.07,184.64 L264.13,184.99 L265.19,185.33 L266.25,185.66 L267.31,185.98 L268.36,186.29 L269.42,186.58 L270.48,186.84 L271.54,187.09 L272.60,187.30 L273.66,187.49 L274.72,187.68 L275.78,187.86 L276.84,188.04 L277.89,188.20 L278.95,188.37 L280.01,188.52 L281.07,188.67 L282.13,188.82 L283.19,188.96 L284.25,189.10 L285.31,189.23 L286.36,189.36 L287.42,189.48 L288.48,189.61 L289.54,189.73 L290.60,189.84 L291.66,189.96 L292.72,190.08 L293.78,190.19 L294.84,190.30 L295.89,190.41 L296.95,190.52 L298.01,190.64 L299.07,190.75 L300.13,190.86 L301.19,190.98 L302.25,191.09 L303.31,191.20 L304.36,191.31 L305.42,191.42 L306.48,191.52 L307.54,191.63 L308.60,191.73 L309.66,191.83 L310.72,191.93 L311.78,192.02 L312.84,192.12 L313.89,192.22 L314.95,192.31 L316.01,192.41 L317.07,192.51 L318.13,192.60 L319.19,192.70 L320.25,192.80 L321.31,192.90 L322.36,193.00 L323.42,193.10 L324.48,193.21 L325.54,193.31 L326.60,193.42 L327.66,193.53 L328.72,193.63 L329.78,193.74 L330.84,193.85 L331.89,193.96 L332.95,194.07 L334.01,194.18 L335.07,194.29 L336.13,194.40 L337.19,194.51 L338.25,194.62 L339.31,194.73 L340.36,194.85 L341.42,194.96 L342.48,195.07 L343.54,195.19 L344.60,195.30" fill="none" stroke="#3A3A3A" stroke-width="0.8" stroke-linejoin="round" />
<path d="M218.60,152.40 L219.39,152.50 L220.18,152.64 L220.98,152.83 L221.77,153.05 L222.56,153.30 L223.35,153.59 L224.15,153.89 L224.94,154.22 L225.73,154.56 L226.52,154.91 L227.32,155.32 L228.11,155.82 L228.90,156.39 L229.69,157.00 L230.49,157.63 L231.28,158.25 L232.07,158.84 L232.86,159.38 L233.66,159.90 L234.45,160.40 L235.24,160.90 L236.03,161.42 L236.83,161.98 L237.62,162.59 L238.41,163.26 L239.20,164.03 L240.00,164.88 L240.79,165.78 L241.58,166.72 L242.37,167.66 L243.17,168.58 L243.96,169.48 L244.75,170.35 L245.54,171.24 L246.34,172.13 L247.13,173.01 L247.92,173.90 L248.71,174.79 L249.51,175.66 L250.30,176.54 L251.09,177.40 L251.88,178.25 L252.68,179.09 L253.47,179.93 L254.26,180.78 L255.05,181.62 L255.85,182.46 L256.64,183.29 L257.43,184.11 L258.22,184.91 L259.02,185.68 L259.81,186.44 L260.60,187.16 L261.39,187.85 L262.18,188.53 L262.98,189.19 L263.77,189.84 L264.56,190.48 L265.35,191.11 L266.15,191.72 L266.94,192.32 L267.73,192.91 L268.52,193.48 L269.32,194.04 L270.11,194.58 L270.90,195.11 L271.69,195.63 L272.49,196.13 L273.28,196.62 L274.07,197.09 L274.86,197.55 L275.66,198.00 L276.45,198.44 L277.24,198.87 L278.03,199.29 L278.83,199.70 L279.62,200.11 L280.41,200.51 L281.20,200.90 L282.00,201.29 L282.79,201.67 L283.58,202.05 L284.37,202.43 L285.17,202.81 L285.96,203.18 L286.75,203.54 L287.54,203.91 L288.34,204.27 L289.13,204.62 L289.92,204.97 L290.71,205.31 L291.51,205.65 L292.30,205.98 L293.09,206.31 L293.88,206.63 L294.68,206.94 L295.47,207.25 L296.26,207.57 L297.05,207.92 L297.85,208.28 L298.64,208.65 L299.43,208.99 L300.22,209.30 L301.02,209.54 L301.81,209.72 L302.60,209.80 L303.39,209.66 L304.18,209.12 L304.98,208.37 L305.77,207.64 L306.56,207.12 L307.35,207.00 L308.15,207.04 L308.94,207.12 L309.73,207.24 L310.52,207.40 L311.32,207.58 L312.11,207.78 L312.90,208.00 L313.69,208.23 L314.49,208.46 L315.28,208.70 L316.07,208.93 L316.86,209.15 L317.66,209.36 L318.45,209.55 L319.24,209.71 L320.03,209.88 L320.83,210.04 L321.62,210.19 L322.41,210.35 L323.20,210.51 L324.00,210.66 L324.79,210.81 L325.58,210.96 L326.37,211.12 L327.17,211.27 L327.96,211.42 L328.75,211.57 L329.54,211.72 L330.34,211.88 L331.13,212.03 L331.92,212.18 L332.71,212.34 L333.51,212.50 L334.30,212.65 L335.09,212.81 L335.88,212.97 L336.68,213.12 L337.47,213.28 L338.26,213.44 L339.05,213.59 L339.85,213.75 L340.64,213.91 L341.43,214.07 L342.22,214.23 L343.02,214.38 L343.81,214.54 L344.60,214.70" fill="none" stroke="#B84444" stroke-width="0.8" stroke-linejoin="round" />
<path d="M218.50,152.50 L220.26,152.56 L222.02,152.66 L223.77,152.77 L225.53,152.92 L227.29,153.07 L229.05,153.25 L230.81,153.44 L232.57,153.63 L234.32,153.87 L236.08,154.16 L237.84,154.49 L239.60,154.85 L241.36,155.22 L243.12,155.59 L244.87,155.95 L246.63,156.29 L248.39,156.61 L250.15,156.94 L251.91,157.28 L253.66,157.62 L255.42,157.96 L257.18,158.29 L258.94,158.61 L260.70,158.91 L262.46,159.20 L264.21,159.46 L265.97,159.70 L267.73,159.91 L269.49,160.10 L271.25,160.29 L273.01,160.46 L274.76,160.63 L276.52,160.78 L278.28,160.93 L280.04,161.08 L281.80,161.21 L283.55,161.35 L285.31,161.48 L287.07,161.61 L288.83,161.73 L290.59,161.85 L292.35,161.97 L294.10,162.09 L295.86,162.20 L297.62,162.31 L299.38,162.41 L301.14,162.52 L302.89,162.62 L304.65,162.72 L306.41,162.82 L308.17,162.91 L309.93,163.01 L311.69,163.10 L313.44,163.18 L315.20,163.27 L316.96,163.36 L318.72,163.44 L320.48,163.52 L322.24,163.60 L323.99,163.68 L325.75,163.75 L327.51,163.83 L329.27,163.90 L331.03,163.97 L332.78,164.04 L334.54,164.11 L336.30,164.17 L338.06,164.23 L339.82,164.29 L341.58,164.35 L343.33,164.41 L345.09,164.46 L346.85,164.52 L348.61,164.57 L350.37,164.62 L352.13,164.67 L353.88,164.71 L355.64,164.76 L357.40,164.80" fill="none" stroke="#F04848" stroke-width="0.9" stroke-linejoin="round" />
<line x1="221.90" y1="240.20" x2="232.60" y2="240.20" stroke="#F49A9A" stroke-width="1.25" />
<text x="235.20" y="241.90" font-size="4.6" text-anchor="start" font-weight="bold" fill="#151515" stroke="#151515" stroke-width="0.09" letter-spacing="0.12" >NiFe@NiCr-LDH</text>
<line x1="221.90" y1="246.20" x2="232.60" y2="246.20" stroke="#C87070" stroke-width="1.25" />
<text x="235.20" y="247.90" font-size="4.6" text-anchor="start" font-weight="bold" fill="#151515" stroke="#151515" stroke-width="0.09" letter-spacing="0.12" >NiCr@NiFe-LDH</text>
<line x1="221.90" y1="252.20" x2="232.60" y2="252.20" stroke="#7a7a7a" stroke-width="1.25" />
<text x="235.20" y="253.90" font-size="4.6" text-anchor="start" font-weight="bold" fill="#151515" stroke="#151515" stroke-width="0.09" letter-spacing="0.12" >RuO<tspan font-size="3.3" dy="1">2</tspan></text>
<text x="382.50" y="158.00" font-size="14.5" text-anchor="middle" font-weight="bold" fill="#000" stroke="#000" stroke-width="0.3" >f</text>
<rect x="404.4" y="151.5" width="138.89999999999998" height="106.69999999999999" fill="none" stroke="#6a6a6a" stroke-width="1.0"/>
<line x1="402.40" y1="256.10" x2="404.40" y2="256.10" stroke="#555" stroke-width="0.7" />
<text x="400.20" y="258.10" font-size="5.1" text-anchor="end" font-weight="bold" fill="#151515" stroke="#151515" stroke-width="0.09" >0</text>
<line x1="402.40" y1="235.98" x2="404.40" y2="235.98" stroke="#555" stroke-width="0.7" />
<text x="400.20" y="237.98" font-size="5.1" text-anchor="end" font-weight="bold" fill="#151515" stroke="#151515" stroke-width="0.09" >10</text>
<line x1="402.40" y1="215.86" x2="404.40" y2="215.86" stroke="#555" stroke-width="0.7" />
<text x="400.20" y="217.86" font-size="5.1" text-anchor="end" font-weight="bold" fill="#151515" stroke="#151515" stroke-width="0.09" >20</text>
<line x1="402.40" y1="195.74" x2="404.40" y2="195.74" stroke="#555" stroke-width="0.7" />
<text x="400.20" y="197.74" font-size="5.1" text-anchor="end" font-weight="bold" fill="#151515" stroke="#151515" stroke-width="0.09" >30</text>
<line x1="402.40" y1="175.62" x2="404.40" y2="175.62" stroke="#555" stroke-width="0.7" />
<text x="400.20" y="177.62" font-size="5.1" text-anchor="end" font-weight="bold" fill="#151515" stroke="#151515" stroke-width="0.09" >40</text>
<line x1="402.40" y1="155.50" x2="404.40" y2="155.50" stroke="#555" stroke-width="0.7" />
<text x="400.20" y="157.50" font-size="5.1" text-anchor="end" font-weight="bold" fill="#151515" stroke="#151515" stroke-width="0.09" >50</text>
<line x1="403.20" y1="246.04" x2="404.40" y2="246.04" stroke="#555" stroke-width="0.6" />
<line x1="403.20" y1="225.92" x2="404.40" y2="225.92" stroke="#555" stroke-width="0.6" />
<line x1="403.20" y1="205.80" x2="404.40" y2="205.80" stroke="#555" stroke-width="0.6" />
<line x1="403.20" y1="185.68" x2="404.40" y2="185.68" stroke="#555" stroke-width="0.6" />
<line x1="403.20" y1="165.56" x2="404.40" y2="165.56" stroke="#555" stroke-width="0.6" />
<line x1="404.10" y1="258.20" x2="404.10" y2="259.80" stroke="#555" stroke-width="0.7" />
<text x="404.10" y="266.40" font-size="5.1" text-anchor="middle" font-weight="bold" fill="#151515" stroke="#151515" stroke-width="0.09" >1.2</text>
<line x1="419.55" y1="258.20" x2="419.55" y2="259.20" stroke="#555" stroke-width="0.6" />
<line x1="435.00" y1="258.20" x2="435.00" y2="259.80" stroke="#555" stroke-width="0.7" />
<text x="435.00" y="266.40" font-size="5.1" text-anchor="middle" font-weight="bold" fill="#151515" stroke="#151515" stroke-width="0.09" >1.3</text>
<line x1="450.45" y1="258.20" x2="450.45" y2="259.20" stroke="#555" stroke-width="0.6" />
<line x1="465.90" y1="258.20" x2="465.90" y2="259.80" stroke="#555" stroke-width="0.7" />
<text x="465.90" y="266.40" font-size="5.1" text-anchor="middle" font-weight="bold" fill="#151515" stroke="#151515" stroke-width="0.09" >1.4</text>
<line x1="481.35" y1="258.20" x2="481.35" y2="259.20" stroke="#555" stroke-width="0.6" />
<line x1="496.80" y1="258.20" x2="496.80" y2="259.80" stroke="#555" stroke-width="0.7" />
<text x="496.80" y="266.40" font-size="5.1" text-anchor="middle" font-weight="bold" fill="#151515" stroke="#151515" stroke-width="0.09" >1.5</text>
<line x1="512.25" y1="258.20" x2="512.25" y2="259.20" stroke="#555" stroke-width="0.6" />
<line x1="527.70" y1="258.20" x2="527.70" y2="259.80" stroke="#555" stroke-width="0.7" />
<text x="527.70" y="266.40" font-size="5.1" text-anchor="middle" font-weight="bold" fill="#151515" stroke="#151515" stroke-width="0.09" >1.6</text>
<line x1="543.15" y1="258.20" x2="543.15" y2="259.20" stroke="#555" stroke-width="0.6" />
<text x="473.40" y="274.40" font-size="7.2" text-anchor="middle" font-weight="bold" fill="#151515" stroke="#151515" stroke-width="0.09" >E (V vs. RHE)</text>
<text transform="translate(391.7,198.1) rotate(-90)" font-size="7" text-anchor="middle" font-weight="bold" fill="#222" stroke="#222" stroke-width="0.04">j (mA cm<tspan font-size="4" dy="-2">-2</tspan><tspan dy="2">)</tspan></text>
<line x1="404.40" y1="235.98" x2="543.30" y2="235.98" stroke="#F4A2A2" stroke-width="1.05" />
<path d="M404.40,256.10 L404.86,256.10 L405.33,256.10 L405.79,256.10 L406.26,256.10 L406.72,256.10 L407.19,256.10 L407.65,256.10 L408.12,256.10 L408.58,256.10 L409.05,256.10 L409.51,256.10 L409.97,256.10 L410.44,256.10 L410.90,256.10 L411.37,256.10 L411.83,256.10 L412.30,256.10 L412.76,256.10 L413.23,256.10 L413.69,256.10 L414.16,256.10 L414.62,256.10 L415.08,256.10 L415.55,256.10 L416.01,256.10 L416.48,256.10 L416.94,256.10 L417.41,256.10 L417.87,256.10 L418.34,256.10 L418.80,256.10 L419.27,256.10 L419.73,256.10 L420.19,256.10 L420.66,256.10 L421.12,256.10 L421.59,256.10 L422.05,256.10 L422.52,256.10 L422.98,256.10 L423.45,256.10 L423.91,256.10 L424.38,256.10 L424.84,256.10 L425.30,256.10 L425.77,256.10 L426.23,256.10 L426.70,256.10 L427.16,256.10 L427.63,256.10 L428.09,256.10 L428.56,256.10 L429.02,256.10 L429.49,256.10 L429.95,256.10 L430.41,256.10 L430.88,256.10 L431.34,256.10 L431.81,256.10 L432.27,256.10 L432.74,256.10 L433.20,256.10 L433.67,256.10 L434.13,256.10 L434.60,256.10 L435.06,256.10 L435.52,256.10 L435.99,256.10 L436.45,256.10 L436.92,256.10 L437.38,256.10 L437.85,256.10 L438.31,256.10 L438.78,256.10 L439.24,256.10 L439.71,256.10 L440.17,256.10 L440.63,256.10 L441.10,256.10 L441.56,256.10 L442.03,256.10 L442.49,256.10 L442.96,256.10 L443.42,256.10 L443.89,256.10 L444.35,256.10 L444.82,256.10 L445.28,256.10 L445.74,256.10 L446.21,256.10 L446.67,256.10 L447.14,256.09 L447.60,256.09 L448.07,256.09 L448.53,256.09 L449.00,256.09 L449.46,256.09 L449.93,256.09 L450.39,256.09 L450.85,256.09 L451.32,256.09 L451.78,256.09 L452.25,256.09 L452.71,256.09 L453.18,256.08 L453.64,256.08 L454.11,256.08 L454.57,256.08 L455.04,256.08 L455.50,256.08 L455.96,256.08 L456.43,256.07 L456.89,256.07 L457.36,256.07 L457.82,256.07 L458.29,256.06 L458.75,256.06 L459.22,256.06 L459.68,256.05 L460.15,256.05 L460.61,256.04 L461.07,256.04 L461.54,256.03 L462.00,256.03 L462.47,256.02 L462.93,256.02 L463.40,256.01 L463.86,256.00 L464.33,255.99 L464.79,255.98 L465.26,255.98 L465.72,255.96 L466.18,255.95 L466.65,255.94 L467.11,255.93 L467.58,255.91 L468.04,255.90 L468.51,255.88 L468.97,255.86 L469.44,255.84 L469.90,255.82 L470.37,255.79 L470.83,255.77 L471.29,255.74 L471.76,255.71 L472.22,255.68 L472.69,255.64 L473.15,255.60 L473.62,255.56 L474.08,255.52 L474.55,255.47 L475.01,255.41 L475.48,255.36 L475.94,255.29 L476.41,255.23 L476.87,255.15 L477.33,255.07 L477.80,254.99 L478.26,254.90 L478.73,254.80 L479.19,254.69 L479.66,254.57 L480.12,254.44 L480.59,254.31 L481.05,254.16 L481.52,254.00 L481.98,253.82 L482.44,253.64 L482.91,253.44 L483.37,253.22 L483.84,252.99 L484.30,252.73 L484.77,252.46 L485.23,252.17 L485.70,251.86 L486.16,251.52 L486.63,251.16 L487.09,250.77 L487.55,250.35 L488.02,249.90 L488.48,249.43 L488.95,248.92 L489.41,248.37 L489.88,247.79 L490.34,247.16 L490.81,246.50 L491.27,245.80 L491.74,245.05 L492.20,244.26 L492.66,243.42 L493.13,242.53 L493.59,241.59 L494.06,240.60 L494.52,239.55 L494.99,238.46 L495.45,237.30 L495.92,236.10 L496.38,234.83 L496.85,233.51 L497.31,232.13 L497.77,230.70 L498.24,229.20 L498.70,227.66 L499.17,226.05 L499.63,224.39 L500.10,222.67 L500.56,220.90 L501.03,219.08 L501.49,217.21 L501.96,215.28 L502.42,213.31 L502.88,211.29 L503.35,209.23 L503.81,207.12 L504.28,204.97 L504.74,202.78 L505.21,200.56 L505.67,198.29 L506.14,195.99 L506.60,193.66 L507.07,191.30 L507.53,188.91 L507.99,186.49 L508.46,184.04 L508.92,181.57 L509.39,179.08 L509.85,176.56 L510.32,174.03 L510.78,171.47 L511.25,168.90 L511.71,166.31 L512.18,163.70 L512.64,161.08 L513.10,158.45 L513.57,155.80 L514.03,153.15 L514.32,151.50" fill="none" stroke="#F0484F" stroke-width="0.85" stroke-linejoin="round" stroke-dasharray="1.6,1.2"/>
<path d="M404.40,256.10 L404.86,256.10 L405.33,256.10 L405.79,256.10 L406.26,256.10 L406.72,256.10 L407.19,256.10 L407.65,256.10 L408.12,256.10 L408.58,256.10 L409.05,256.10 L409.51,256.10 L409.97,256.10 L410.44,256.10 L410.90,256.10 L411.37,256.10 L411.83,256.10 L412.30,256.10 L412.76,256.10 L413.23,256.10 L413.69,256.10 L414.16,256.10 L414.62,256.10 L415.08,256.10 L415.55,256.10 L416.01,256.10 L416.48,256.10 L416.94,256.10 L417.41,256.10 L417.87,256.10 L418.34,256.10 L418.80,256.10 L419.27,256.10 L419.73,256.10 L420.19,256.10 L420.66,256.10 L421.12,256.10 L421.59,256.10 L422.05,256.10 L422.52,256.10 L422.98,256.10 L423.45,256.10 L423.91,256.10 L424.38,256.10 L424.84,256.10 L425.30,256.10 L425.77,256.10 L426.23,256.10 L426.70,256.10 L427.16,256.10 L427.63,256.10 L428.09,256.10 L428.56,256.10 L429.02,256.10 L429.49,256.10 L429.95,256.10 L430.41,256.10 L430.88,256.10 L431.34,256.10 L431.81,256.10 L432.27,256.10 L432.74,256.10 L433.20,256.10 L433.67,256.10 L434.13,256.10 L434.60,256.10 L435.06,256.10 L435.52,256.10 L435.99,256.10 L436.45,256.10 L436.92,256.10 L437.38,256.10 L437.85,256.10 L438.31,256.10 L438.78,256.10 L439.24,256.10 L439.71,256.10 L440.17,256.10 L440.63,256.10 L441.10,256.10 L441.56,256.10 L442.03,256.10 L442.49,256.10 L442.96,256.10 L443.42,256.10 L443.89,256.10 L444.35,256.10 L444.82,256.10 L445.28,256.10 L445.74,256.10 L446.21,256.10 L446.67,256.10 L447.14,256.10 L447.60,256.10 L448.07,256.09 L448.53,256.09 L449.00,256.09 L449.46,256.09 L449.93,256.09 L450.39,256.09 L450.85,256.09 L451.32,256.09 L451.78,256.09 L452.25,256.09 L452.71,256.09 L453.18,256.09 L453.64,256.09 L454.11,256.08 L454.57,256.08 L455.04,256.08 L455.50,256.08 L455.96,256.08 L456.43,256.08 L456.89,256.07 L457.36,256.07 L457.82,256.07 L458.29,256.07 L458.75,256.06 L459.22,256.06 L459.68,256.06 L460.15,256.05 L460.61,256.05 L461.07,256.04 L461.54,256.04 L462.00,256.03 L462.47,256.03 L462.93,256.02 L463.40,256.01 L463.86,256.01 L464.33,256.00 L464.79,255.99 L465.26,255.98 L465.72,255.97 L466.18,255.96 L466.65,255.94 L467.11,255.93 L467.58,255.92 L468.04,255.90 L468.51,255.88 L468.97,255.86 L469.44,255.84 L469.90,255.82 L470.37,255.80 L470.83,255.77 L471.29,255.74 L471.76,255.71 L472.22,255.67 L472.69,255.64 L473.15,255.60 L473.62,255.55 L474.08,255.50 L474.55,255.45 L475.01,255.40 L475.48,255.33 L475.94,255.27 L476.41,255.19 L476.87,255.12 L477.33,255.03 L477.80,254.94 L478.26,254.84 L478.73,254.73 L479.19,254.61 L479.66,254.48 L480.12,254.34 L480.59,254.19 L481.05,254.03 L481.52,253.85 L481.98,253.66 L482.44,253.45 L482.91,253.22 L483.37,252.98 L483.84,252.71 L484.30,252.43 L484.77,252.12 L485.23,251.79 L485.70,251.43 L486.16,251.05 L486.63,250.63 L487.09,250.19 L487.55,249.70 L488.02,249.19 L488.48,248.63 L488.95,248.04 L489.41,247.41 L489.88,246.72 L490.34,246.00 L490.81,245.22 L491.27,244.39 L491.74,243.51 L492.20,242.58 L492.66,241.59 L493.13,240.53 L493.59,239.42 L494.06,238.24 L494.52,237.00 L494.99,235.70 L495.45,234.32 L495.92,232.88 L496.38,231.37 L496.85,229.80 L497.31,228.15 L497.77,226.43 L498.24,224.65 L498.70,222.79 L499.17,220.87 L499.63,218.89 L500.10,216.83 L500.56,214.72 L501.03,212.54 L501.49,210.30 L501.96,208.00 L502.42,205.65 L502.88,203.24 L503.35,200.78 L503.81,198.27 L504.28,195.71 L504.74,193.10 L505.21,190.45 L505.67,187.76 L506.14,185.03 L506.60,182.26 L507.07,179.46 L507.53,176.62 L507.99,173.76 L508.46,170.86 L508.92,167.94 L509.39,164.99 L509.85,162.02 L510.32,159.03 L510.78,156.01 L511.25,152.98 L511.47,151.50" fill="none" stroke="#F0484F" stroke-width="0.85" stroke-linejoin="round" />
<path d="M404.40,256.10 L404.86,256.10 L405.33,256.10 L405.79,256.10 L406.26,256.10 L406.72,256.10 L407.19,256.10 L407.65,256.10 L408.12,256.10 L408.58,256.10 L409.05,256.10 L409.51,256.10 L409.97,256.10 L410.44,256.10 L410.90,256.10 L411.37,256.10 L411.83,256.10 L412.30,256.10 L412.76,256.10 L413.23,256.10 L413.69,256.10 L414.16,256.10 L414.62,256.10 L415.08,256.10 L415.55,256.10 L416.01,256.10 L416.48,256.10 L416.94,256.10 L417.41,256.10 L417.87,256.10 L418.34,256.10 L418.80,256.10 L419.27,256.10 L419.73,256.10 L420.19,256.10 L420.66,256.10 L421.12,256.10 L421.59,256.10 L422.05,256.10 L422.52,256.10 L422.98,256.10 L423.45,256.10 L423.91,256.10 L424.38,256.10 L424.84,256.10 L425.30,256.10 L425.77,256.10 L426.23,256.10 L426.70,256.10 L427.16,256.10 L427.63,256.10 L428.09,256.10 L428.56,256.10 L429.02,256.10 L429.49,256.10 L429.95,256.10 L430.41,256.10 L430.88,256.10 L431.34,256.10 L431.81,256.10 L432.27,256.10 L432.74,256.10 L433.20,256.10 L433.67,256.10 L434.13,256.10 L434.60,256.10 L435.06,256.10 L435.52,256.10 L435.99,256.10 L436.45,256.10 L436.92,256.10 L437.38,256.09 L437.85,256.09 L438.31,256.09 L438.78,256.09 L439.24,256.09 L439.71,256.09 L440.17,256.09 L440.63,256.09 L441.10,256.09 L441.56,256.09 L442.03,256.09 L442.49,256.09 L442.96,256.09 L443.42,256.09 L443.89,256.09 L444.35,256.09 L444.82,256.09 L445.28,256.09 L445.74,256.09 L446.21,256.09 L446.67,256.09 L447.14,256.08 L447.60,256.08 L448.07,256.08 L448.53,256.08 L449.00,256.08 L449.46,256.08 L449.93,256.08 L450.39,256.08 L450.85,256.08 L451.32,256.08 L451.78,256.07 L452.25,256.07 L452.71,256.07 L453.18,256.07 L453.64,256.07 L454.11,256.07 L454.57,256.07 L455.04,256.06 L455.50,256.06 L455.96,256.06 L456.43,256.06 L456.89,256.05 L457.36,256.05 L457.82,256.05 L458.29,256.05 L458.75,256.04 L459.22,256.04 L459.68,256.04 L460.15,256.04 L460.61,256.03 L461.07,256.03 L461.54,256.02 L462.00,256.02 L462.47,256.02 L462.93,256.01 L463.40,256.01 L463.86,256.00 L464.33,256.00 L464.79,255.99 L465.26,255.99 L465.72,255.98 L466.18,255.97 L466.65,255.97 L467.11,255.96 L467.58,255.95 L468.04,255.95 L468.51,255.94 L468.97,255.93 L469.44,255.92 L469.90,255.91 L470.37,255.90 L470.83,255.89 L471.29,255.88 L471.76,255.87 L472.22,255.85 L472.69,255.84 L473.15,255.83 L473.62,255.81 L474.08,255.80 L474.55,255.78 L475.01,255.77 L475.48,255.75 L475.94,255.73 L476.41,255.71 L476.87,255.69 L477.33,255.67 L477.80,255.65 L478.26,255.62 L478.73,255.60 L479.19,255.57 L479.66,255.55 L480.12,255.52 L480.59,255.49 L481.05,255.46 L481.52,255.42 L481.98,255.39 L482.44,255.35 L482.91,255.31 L483.37,255.27 L483.84,255.23 L484.30,255.19 L484.77,255.14 L485.23,255.09 L485.70,255.04 L486.16,254.99 L486.63,254.93 L487.09,254.87 L487.55,254.81 L488.02,254.75 L488.48,254.68 L488.95,254.61 L489.41,254.53 L489.88,254.46 L490.34,254.37 L490.81,254.29 L491.27,254.20 L491.74,254.11 L492.20,254.01 L492.66,253.91 L493.13,253.80 L493.59,253.69 L494.06,253.58 L494.52,253.46 L494.99,253.34 L495.45,253.20 L495.92,253.07 L496.38,252.93 L496.85,252.78 L497.31,252.63 L497.77,252.47 L498.24,252.31 L498.70,252.14 L499.17,251.96 L499.63,251.77 L500.10,251.58 L500.56,251.39 L501.03,251.18 L501.49,250.97 L501.96,250.75 L502.42,250.52 L502.88,250.29 L503.35,250.05 L503.81,249.80 L504.28,249.54 L504.74,249.28 L505.21,249.01 L505.67,248.73 L506.14,248.44 L506.60,248.14 L507.07,247.84 L507.53,247.53 L507.99,247.21 L508.46,246.88 L508.92,246.54 L509.39,246.20 L509.85,245.85 L510.32,245.49 L510.78,245.12 L511.25,244.75 L511.71,244.37 L512.18,243.98 L512.64,243.58 L513.10,243.18 L513.57,242.77 L514.03,242.35 L514.50,241.92 L514.96,241.49 L515.43,241.05 L515.89,240.61 L516.36,240.16 L516.82,239.70 L517.29,239.23 L517.75,238.76 L518.21,238.29 L518.68,237.81 L519.14,237.32 L519.61,236.83 L520.07,236.34 L520.54,235.83 L521.00,235.33 L521.47,234.82 L521.93,234.30 L522.40,233.78 L522.86,233.26 L523.32,232.73 L523.79,232.20 L524.25,231.66 L524.72,231.13 L525.18,230.58 L525.65,230.04 L526.11,229.49 L526.58,228.94 L527.04,228.38 L527.51,227.83 L527.97,227.26 L528.43,226.70 L528.90,226.14 L529.36,225.57 L529.83,225.00 L530.29,224.43 L530.76,223.85 L531.22,223.28 L531.69,222.70 L532.15,222.12 L532.62,221.54 L533.08,220.95 L533.54,220.37 L534.01,219.78 L534.47,219.19 L534.94,218.60 L535.40,218.01 L535.87,217.42 L536.33,216.83 L536.80,216.23 L537.26,215.64 L537.73,215.04 L538.19,214.44 L538.65,213.84 L539.12,213.25 L539.58,212.65 L540.05,212.04 L540.51,211.44 L540.98,210.84 L541.44,210.24 L541.91,209.63 L542.37,209.03 L542.84,208.42 L543.30,207.82" fill="none" stroke="#3FB3AE" stroke-width="0.85" stroke-linejoin="round" stroke-dasharray="1.6,1.2"/>
<path d="M404.40,256.10 L404.86,256.10 L405.33,256.10 L405.79,256.10 L406.26,256.10 L406.72,256.10 L407.19,256.10 L407.65,256.10 L408.12,256.10 L408.58,256.10 L409.05,256.10 L409.51,256.10 L409.97,256.10 L410.44,256.10 L410.90,256.10 L411.37,256.10 L411.83,256.10 L412.30,256.10 L412.76,256.10 L413.23,256.10 L413.69,256.10 L414.16,256.10 L414.62,256.10 L415.08,256.10 L415.55,256.10 L416.01,256.10 L416.48,256.10 L416.94,256.10 L417.41,256.10 L417.87,256.10 L418.34,256.10 L418.80,256.10 L419.27,256.10 L419.73,256.10 L420.19,256.10 L420.66,256.10 L421.12,256.10 L421.59,256.10 L422.05,256.10 L422.52,256.10 L422.98,256.10 L423.45,256.10 L423.91,256.10 L424.38,256.10 L424.84,256.10 L425.30,256.10 L425.77,256.10 L426.23,256.10 L426.70,256.10 L427.16,256.10 L427.63,256.10 L428.09,256.10 L428.56,256.10 L429.02,256.10 L429.49,256.10 L429.95,256.10 L430.41,256.10 L430.88,256.10 L431.34,256.10 L431.81,256.10 L432.27,256.10 L432.74,256.10 L433.20,256.10 L433.67,256.10 L434.13,256.10 L434.60,256.10 L435.06,256.10 L435.52,256.10 L435.99,256.10 L436.45,256.10 L436.92,256.10 L437.38,256.10 L437.85,256.10 L438.31,256.10 L438.78,256.10 L439.24,256.10 L439.71,256.10 L440.17,256.10 L440.63,256.10 L441.10,256.10 L441.56,256.10 L442.03,256.10 L442.49,256.10 L442.96,256.10 L443.42,256.10 L443.89,256.10 L444.35,256.10 L444.82,256.10 L445.28,256.10 L445.74,256.10 L446.21,256.10 L446.67,256.10 L447.14,256.10 L447.60,256.10 L448.07,256.10 L448.53,256.10 L449.00,256.09 L449.46,256.09 L449.93,256.09 L450.39,256.09 L450.85,256.09 L451.32,256.09 L451.78,256.09 L452.25,256.09 L452.71,256.09 L453.18,256.09 L453.64,256.09 L454.11,256.09 L454.57,256.09 L455.04,256.09 L455.50,256.09 L455.96,256.09 L456.43,256.09 L456.89,256.08 L457.36,256.08 L457.82,256.08 L458.29,256.08 L458.75,256.08 L459.22,256.08 L459.68,256.08 L460.15,256.08 L460.61,256.07 L461.07,256.07 L461.54,256.07 L462.00,256.07 L462.47,256.07 L462.93,256.06 L463.40,256.06 L463.86,256.06 L464.33,256.06 L464.79,256.05 L465.26,256.05 L465.72,256.05 L466.18,256.04 L466.65,256.04 L467.11,256.04 L467.58,256.03 L468.04,256.03 L468.51,256.02 L468.97,256.02 L469.44,256.01 L469.90,256.01 L470.37,256.00 L470.83,256.00 L471.29,255.99 L471.76,255.98 L472.22,255.97 L472.69,255.97 L473.15,255.96 L473.62,255.95 L474.08,255.94 L474.55,255.93 L475.01,255.92 L475.48,255.90 L475.94,255.89 L476.41,255.88 L476.87,255.86 L477.33,255.85 L477.80,255.83 L478.26,255.81 L478.73,255.80 L479.19,255.78 L479.66,255.75 L480.12,255.73 L480.59,255.71 L481.05,255.68 L481.52,255.66 L481.98,255.63 L482.44,255.60 L482.91,255.56 L483.37,255.53 L483.84,255.49 L484.30,255.45 L484.77,255.41 L485.23,255.37 L485.70,255.32 L486.16,255.27 L486.63,255.22 L487.09,255.16 L487.55,255.10 L488.02,255.04 L488.48,254.97 L488.95,254.90 L489.41,254.82 L489.88,254.74 L490.34,254.66 L490.81,254.57 L491.27,254.47 L491.74,254.37 L492.20,254.26 L492.66,254.15 L493.13,254.03 L493.59,253.91 L494.06,253.77 L494.52,253.63 L494.99,253.48 L495.45,253.32 L495.92,253.16 L496.38,252.98 L496.85,252.80 L497.31,252.60 L497.77,252.40 L498.24,252.18 L498.70,251.96 L499.17,251.72 L499.63,251.47 L500.10,251.21 L500.56,250.94 L501.03,250.66 L501.49,250.36 L501.96,250.04 L502.42,249.72 L502.88,249.38 L503.35,249.03 L503.81,248.66 L504.28,248.27 L504.74,247.88 L505.21,247.46 L505.67,247.03 L506.14,246.59 L506.60,246.13 L507.07,245.66 L507.53,245.17 L507.99,244.66 L508.46,244.14 L508.92,243.60 L509.39,243.05 L509.85,242.48 L510.32,241.90 L510.78,241.30 L511.25,240.69 L511.71,240.06 L512.18,239.42 L512.64,238.76 L513.10,238.09 L513.57,237.41 L514.03,236.71 L514.50,236.00 L514.96,235.28 L515.43,234.55 L515.89,233.81 L516.36,233.05 L516.82,232.28 L517.29,231.51 L517.75,230.72 L518.21,229.92 L518.68,229.12 L519.14,228.30 L519.61,227.48 L520.07,226.64 L520.54,225.80 L521.00,224.96 L521.47,224.10 L521.93,223.24 L522.40,222.37 L522.86,221.50 L523.32,220.62 L523.79,219.73 L524.25,218.84 L524.72,217.95 L525.18,217.04 L525.65,216.14 L526.11,215.23 L526.58,214.31 L527.04,213.40 L527.51,212.47 L527.97,211.55 L528.43,210.62 L528.90,209.69 L529.36,208.76 L529.83,207.82 L530.29,206.88 L530.76,205.94 L531.22,204.99 L531.69,204.04 L532.15,203.10 L532.62,202.15 L533.08,201.19 L533.54,200.24 L534.01,199.28 L534.47,198.32 L534.94,197.37 L535.40,196.41 L535.87,195.44 L536.33,194.48 L536.80,193.52 L537.26,192.55 L537.73,191.59 L538.19,190.62 L538.65,189.65 L539.12,188.68 L539.58,187.71 L540.05,186.74 L540.51,185.77 L540.98,184.80 L541.44,183.83 L541.91,182.86 L542.37,181.88 L542.84,180.91 L543.30,179.94" fill="none" stroke="#3FB3AE" stroke-width="0.85" stroke-linejoin="round" />
<line x1="406.40" y1="157.00" x2="417.30" y2="157.00" stroke="#F0484F" stroke-width="0.7" />
<text x="420.00" y="158.70" font-size="4.7" text-anchor="start" font-weight="normal" fill="#151515" stroke="#151515" stroke-width="0.12" letter-spacing="0.12" >NiFe@NiCr-LDH, before 5000 cycles</text>
<line x1="406.40" y1="162.95" x2="417.30" y2="162.95" stroke="#F0484F" stroke-width="0.7" stroke-dasharray="1.6,1.2"/>
<text x="420.00" y="164.65" font-size="4.7" text-anchor="start" font-weight="normal" fill="#151515" stroke="#151515" stroke-width="0.12" letter-spacing="0.12" >NiFe@NiCr-LDH, after 5000 cycles</text>
<line x1="406.40" y1="168.90" x2="417.30" y2="168.90" stroke="#3FB3AE" stroke-width="0.7" />
<text x="420.00" y="170.60" font-size="4.7" text-anchor="start" font-weight="normal" fill="#151515" stroke="#151515" stroke-width="0.12" letter-spacing="0.12" >NiCr-LDH, before 5000 cycles</text>
<line x1="406.40" y1="174.85" x2="417.30" y2="174.85" stroke="#3FB3AE" stroke-width="0.7" stroke-dasharray="1.6,1.2"/>
<text x="420.00" y="176.55" font-size="4.7" text-anchor="start" font-weight="normal" fill="#151515" stroke="#151515" stroke-width="0.12" letter-spacing="0.12" >NiCr-LDH, after 5000 cycles</text>
</svg></body></html>
